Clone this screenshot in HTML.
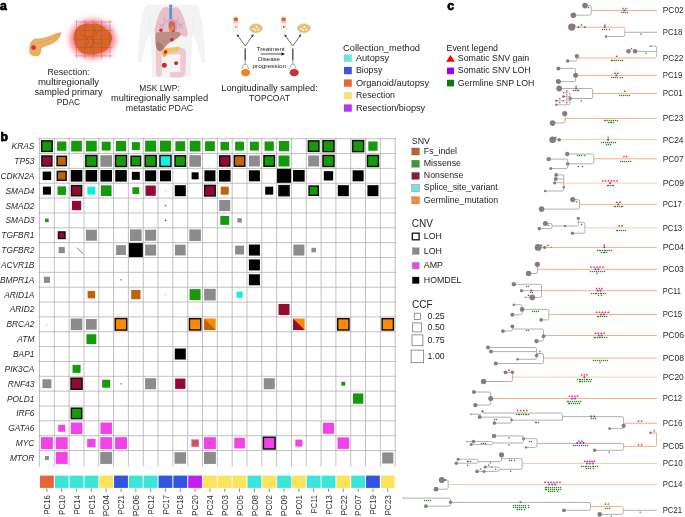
<!DOCTYPE html>
<html><head><meta charset="utf-8"><title>Figure</title><style>
*{margin:0;padding:0}
html,body{width:685px;height:517px;background:#fff;overflow:hidden}
svg{display:block}
text{font-family:"Liberation Sans",Arial,sans-serif;fill:#222}
.gl{stroke:#adadad;stroke-width:0.75}
.gene{font-size:8.4px;font-style:italic;text-anchor:end;fill:#2a2a2a}
.samp{font-size:9px;fill:#333}
.lg{font-size:8.8px;fill:#222}
.lg2{font-size:10px;fill:#222}
.cap{font-size:9px;fill:#222}
.pl{font-size:12.2px;font-weight:bold;fill:#000;stroke:#000;stroke-width:0.75;stroke-linejoin:round}
.tl{font-size:8.6px;fill:#2a2a2a}
.sm{font-size:6px;fill:#222}
</style></head>
<body><svg width="685" height="517" viewBox="0 0 685 517">
<defs>
<filter id="glow" x="-30%" y="-30%" width="160%" height="160%"><feGaussianBlur stdDeviation="3.2"/></filter>
<filter id="soft" x="-20%" y="-20%" width="140%" height="140%"><feGaussianBlur stdDeviation="0.5"/></filter>
</defs>
<path d="M61 32.3C59.5 32.3 58.2 32.6 56.9 32.9C54.5 33.8 52.3 35 50 35.8C47.6 36.8 45.3 37.4 43 37.9C40.7 38.3 38.4 38.3 36.1 38.6C34.2 39 32.8 39.6 31.9 40.7C30.7 41.9 30.1 43.3 29.9 44.8C29.4 46.6 29.1 48.5 29.2 50.4C29.4 51.9 29.8 53.3 30.5 54.5C31.6 55.6 33 56.2 34.7 56.3C36.3 56.4 37.8 56.2 38.9 55.5C40.3 54.6 40.8 53.2 41 51.8C41.2 50.6 41.1 49.4 41.6 48.3C42.7 47.2 44.2 46.7 45.8 46.2C48.1 45.4 50.4 44.6 52.7 43.4C54.8 42.3 56.8 40.9 58.3 39.3C59.5 38 60.4 36.6 60.8 35.1C61.3 34.1 61.6 33 61 32.3Z" fill="#e8ad62"/>
<path d="M34 41.5C40 41.8 47 39.5 53 36.6M33 47C38 45 44 43.5 52 40.5" stroke="#f0c07a" stroke-width="0.9" fill="none" opacity="0.8"/>
<path d="M37.5 42.8C44 41.8 50 39.4 57 35.4" stroke="#c98b48" stroke-width="0.4" fill="none"/>
<circle cx="33.6" cy="47.6" r="2.4" fill="#d2343c"/>
<ellipse cx="92.6" cy="39" rx="22.5" ry="19" fill="#ff4a5e" opacity="0.8" filter="url(#glow)"/>
<path d="M84.5 24C87 23.2 90 23.4 92.5 24.2C94.5 23.2 97.5 23.2 99.5 24.6C102 25.4 104.6 27.4 106 29.6C108 30.4 110.6 32.6 111.8 35.2C112.6 37.8 111.8 40.6 110.6 43C109.6 46 108 48.8 105.6 50.6C103 52.4 100 53.2 97 53.8C95.4 54.6 93.4 54.8 92 54.5C89.5 54.8 87 54.6 85 53.8C83.6 53.6 82.2 53.2 81.4 52.6C79.4 51.4 78.2 49.6 77.4 47.6C75.6 45.8 74.4 43.4 74.2 41C73.4 39.4 73.2 37.8 73.7 36.3C73.8 33 75.4 29.6 77.6 27.4C79.6 25.4 82 24.4 84.5 24Z" fill="#dd6424"/>
<path d="M80 34C83 36 85 35 87 37L88.5 42L86 47M87 37L92 36.5L96.5 33L99.5 30M92 36.5L93 42L98.5 44L103 42.5M93 42L90 48.5M96.5 33L94 28" stroke="#b9441a" stroke-width="0.55" fill="none"/>
<line x1="76.6" y1="19.8" x2="76.6" y2="58.7" stroke="#6e5c5c" stroke-width="0.5" opacity="0.7"/>
<line x1="84.9" y1="19.8" x2="84.9" y2="58.7" stroke="#6e5c5c" stroke-width="0.5" opacity="0.7"/>
<line x1="93.2" y1="19.8" x2="93.2" y2="58.7" stroke="#6e5c5c" stroke-width="0.5" opacity="0.7"/>
<line x1="101.6" y1="19.8" x2="101.6" y2="58.7" stroke="#6e5c5c" stroke-width="0.5" opacity="0.7"/>
<line x1="109.9" y1="19.8" x2="109.9" y2="58.7" stroke="#6e5c5c" stroke-width="0.5" opacity="0.7"/>
<line x1="74.9" y1="21.9" x2="112.7" y2="21.9" stroke="#6e5c5c" stroke-width="0.5" opacity="0.7"/>
<line x1="74.9" y1="30.5" x2="112.7" y2="30.5" stroke="#6e5c5c" stroke-width="0.5" opacity="0.7"/>
<line x1="74.9" y1="39.3" x2="112.7" y2="39.3" stroke="#6e5c5c" stroke-width="0.5" opacity="0.7"/>
<line x1="74.9" y1="47.6" x2="112.7" y2="47.6" stroke="#6e5c5c" stroke-width="0.5" opacity="0.7"/>
<line x1="74.9" y1="55.9" x2="112.7" y2="55.9" stroke="#6e5c5c" stroke-width="0.5" opacity="0.7"/>
<path d="M151 4.7C147.5 4.8 145.5 5.6 144.2 8C142.2 13 140.6 24 139.6 34C138.8 42 138 52 137.6 62.5L141.4 62.5C143 55 145.6 44 148.4 37L150.6 34.5L152.4 77.8L190.6 77.8L192.4 34.5L194.6 37C197.4 44 200 55 201.6 62.5L205.4 62.5C205 52 204.2 42 203.4 34C202.4 24 200.8 13 198.8 8C197.5 5.6 195.5 4.8 192 4.7Z" fill="#f3f3f3"/>
<path d="M150.6 34.5L149.6 16M192.4 34.5L193.4 16" stroke="#e9e9e9" stroke-width="0.6" fill="none"/>
<path d="M165.6 6.8C163 7.2 161.2 9.5 159.6 13C157.4 18 155.4 25 154.6 30C154.2 33 155 34.8 157 34.6C160.5 34.2 165 33.4 168.4 32L169.3 24L169.2 9.5C169 7.8 167.2 6.6 165.6 6.8Z" fill="#ebbfc7"/>
<path d="M175.8 7C178.4 7.4 180.4 9.8 182 13.4C184.2 18.6 186.6 26 187.6 32C188 35.4 187.2 37 185.2 36.6C181.4 35.8 177 34.6 174 33L172.3 24L172.3 9.5C172.6 7.8 174.2 6.8 175.8 7Z" fill="#ebbfc7"/>
<path d="M169.4 19.5L165.5 22L161.5 25.5L159.5 28M165.5 22L163.8 17M161.5 25.5L159 24M163.5 23.5L162.5 29.5M172.2 19.5L176.5 22L181 25L183 28.5M176.5 22L178.5 16.5M181 25L183.6 23.4M179 23.5L179.5 29.5" stroke="#96a3d6" stroke-width="0.7" fill="none"/>
<rect x="169.2" y="4.7" width="3" height="14.8" fill="#6a8cc6"/>
<path d="M169.2 7.5H172.2M169.2 10H172.2M169.2 12.5H172.2M169.2 15H172.2M169.2 17.5H172.2" stroke="#86a2d2" stroke-width="0.4"/>
<path d="M170 19.2C172.5 18.8 175 19.6 176.2 21.6C177.4 24.5 177.4 28.5 176.4 31.2C175.4 32.6 172 33 170 32.6C168.4 32 168 29 168 25C168 22 168.6 19.8 170 19.2Z" fill="#dfa09e"/>
<path d="M170.2 21.5C172 20.8 174 21.4 174.8 23.4C175.6 26 175.4 29.4 174.2 31C173 32 171 32 169.8 31C168.8 29.6 168.8 25 169.2 23C169.4 22.2 169.7 21.7 170.2 21.5Z" fill="#c8675a"/>
<path d="M169.2 26.5C170 27.5 170.6 29.2 171.4 30.4C172 31.3 171 31.8 170 31.4C169.2 30.6 169 28 169.2 26.5Z" fill="#e2a23e"/>
<path d="M171.8 25.5C172.8 25.4 173.8 26.6 173.8 28.2C173.6 29.6 172.6 30.4 171.8 30C171.2 29 171.2 26.5 171.8 25.5Z" fill="#d88a8a"/>
<circle cx="173.6" cy="31.2" r="0.9" fill="#b22a2a"/>
<path d="M158.6 46.5C160.5 47.6 163 48.4 166 48.2L178.5 47.8C182.5 47.6 185.6 48.6 185.8 52C186 58 185.8 66 185.4 72C185.2 76 183 77.4 179.5 77.4L172 77.4C170.6 77.4 170 76.6 170 75.2L170 73.4C170 72.6 170.6 72.2 171.4 72.2L180.2 72.2L180.5 54.2L166 54.4L161.6 54.6L161.8 73C161.8 75.4 160.6 76.8 158.8 76.8C157 76.8 156.1 75.6 156 73.5L155.8 50C155.8 47.5 156.8 45.8 158.6 46.5Z" fill="#ebc9ce"/>
<path d="M156.2 32.6C162 31.8 170 31.6 176 31.8C179.2 32 181 32.6 180.8 34.2C180 36.6 177 38.8 173 40.8C169 42.8 166 45.4 164 48.4C162.4 50.8 160 52 158 50.6C156 49 155.4 44 155.3 39C155.2 36 155.4 33.2 156.2 32.6Z" fill="#b88f80"/>
<path d="M156 42C156 47 157.5 50.5 160 51C161.8 51 163 49 163.6 47C162.5 44 160 42 156 42Z" fill="#a87a6a"/>
<line x1="169.4" y1="32.2" x2="169.4" y2="43" stroke="#c9a298" stroke-width="0.5"/>
<path d="M163 49.4C167 48 173 47.2 178 46.8C180.2 46.8 180.4 48.6 179 49.8C176.4 51.6 172 52.4 168 53C167 55 166 56.8 164.4 57C162.8 57 162 55.4 162 53.4C162 51.6 162.2 50 163 49.4Z" fill="#f2c55a"/>
<path d="M162.4 52.5C163 55 164 56.6 165 56.6C166 56 166.6 54.4 166.8 53" fill="#eda43a"/>
<circle cx="161" cy="30.2" r="1.7" fill="#d3263a"/>
<circle cx="171.9" cy="39.6" r="1.9" fill="#d3263a"/>
<circle cx="165.6" cy="51.9" r="1.8" fill="#d3263a"/>
<circle cx="164.3" cy="65.2" r="2.5" fill="#d3263a"/>
<circle cx="176.1" cy="63.2" r="1.9" fill="#d3263a"/>
<rect x="233.8" y="18" width="4" height="14.2" rx="1.5" fill="#fff" stroke="#cfcfcf" stroke-width="0.5"/>
<rect x="233.6" y="17.6" width="4.4" height="3.4" rx="1" fill="#ee5a2a"/>
<rect x="233.8" y="21.4" width="4" height="1.2" fill="#f4a070"/>
<circle cx="235.9" cy="27" r="0.9" fill="#f5821f"/>
<ellipse cx="256" cy="28.3" rx="6.6" ry="4.6" fill="#e6c270" stroke="#cdd6de" stroke-width="0.7"/>
<circle cx="253.5" cy="28.8" r="0.9" fill="#fff"/>
<circle cx="256.5" cy="27" r="0.9" fill="#fff"/>
<circle cx="258.5" cy="29.5" r="0.9" fill="#fff"/>
<circle cx="255.5" cy="30.2" r="0.9" fill="#fff"/>
<path d="M245.2 46L237.6 35.4M245.2 46L252.79999999999998 35.4" stroke="#333" stroke-width="0.7" fill="none"/>
<path d="M236.6 34.2L239.39999999999998 35.6L237.6 37.2Z M253.79999999999998 34.2L251.0 35.6L252.79999999999998 37.2Z" fill="#333"/>
<line x1="245.2" y1="48.5" x2="245.2" y2="60" stroke="#5a5a5a" stroke-width="1.5"/>
<line x1="245.2" y1="60" x2="245.2" y2="64.4" stroke="#c4c4c4" stroke-width="1.7"/>
<path d="M241.79999999999998 69L243.6 64.6L246.79999999999998 64.6L248.6 69" fill="none" stroke="#a8a8a8" stroke-width="0.9"/>
<ellipse cx="245.6" cy="72.6" rx="4.6" ry="3.7" fill="#f5821f"/>
<rect x="281.6" y="18" width="4" height="14.2" rx="1.5" fill="#fff" stroke="#cfcfcf" stroke-width="0.5"/>
<rect x="281.4" y="17.6" width="4.4" height="3.4" rx="1" fill="#ee5a2a"/>
<rect x="281.6" y="21.4" width="4" height="1.2" fill="#f4a070"/>
<circle cx="283.7" cy="27" r="0.9" fill="#d02030"/>
<ellipse cx="303.8" cy="28.3" rx="6.6" ry="4.6" fill="#e6c270" stroke="#cdd6de" stroke-width="0.7"/>
<circle cx="301.3" cy="28.8" r="0.9" fill="#fff"/>
<circle cx="304.3" cy="27" r="0.9" fill="#fff"/>
<circle cx="306.3" cy="29.5" r="0.9" fill="#fff"/>
<circle cx="303.3" cy="30.2" r="0.9" fill="#fff"/>
<path d="M292.8 46L285.2 35.4M292.8 46L300.40000000000003 35.4" stroke="#333" stroke-width="0.7" fill="none"/>
<path d="M284.2 34.2L287.0 35.6L285.2 37.2Z M301.40000000000003 34.2L298.6 35.6L300.40000000000003 37.2Z" fill="#333"/>
<line x1="292.8" y1="48.5" x2="292.8" y2="60" stroke="#5a5a5a" stroke-width="1.5"/>
<line x1="292.8" y1="60" x2="292.8" y2="64.4" stroke="#c4c4c4" stroke-width="1.7"/>
<path d="M289.40000000000003 69L291.2 64.6L294.40000000000003 64.6L296.2 69" fill="none" stroke="#a8a8a8" stroke-width="0.9"/>
<ellipse cx="294.2" cy="72.6" rx="4.6" ry="3.7" fill="#c2333a"/>
<line x1="260.8" y1="54" x2="282.5" y2="54" stroke="#222" stroke-width="0.8"/>
<path d="M285 54L281.5 52.2L281.5 55.8Z" fill="#222"/>
<text x="270.7" y="50.5" class="sm" text-anchor="middle" textLength="28.2" lengthAdjust="spacingAndGlyphs">Treatment</text>
<text x="269" y="60.9" class="sm" text-anchor="middle" textLength="22" lengthAdjust="spacingAndGlyphs">Disease</text>
<text x="269.3" y="67.6" class="sm" text-anchor="middle" textLength="33.6" lengthAdjust="spacingAndGlyphs">progression</text>
<text x="0.1" y="9.8" class="pl">a</text>
<text x="0.5" y="140.7" class="pl">b</text>
<text x="447.3" y="9.9" class="pl">c</text>
<text x="68.5" y="74.6" class="cap" text-anchor="middle" textLength="42.2" lengthAdjust="spacingAndGlyphs">Resection:</text>
<text x="68.5" y="84.7" class="cap" text-anchor="middle" textLength="61.2" lengthAdjust="spacingAndGlyphs">multiregionally</text>
<text x="68.5" y="94.8" class="cap" text-anchor="middle" textLength="68.1" lengthAdjust="spacingAndGlyphs">sampled primary</text>
<text x="68.5" y="104.9" class="cap" text-anchor="middle" textLength="23.3" lengthAdjust="spacingAndGlyphs">PDAC</text>
<text x="159.5" y="91.3" class="cap" text-anchor="middle" textLength="40.5" lengthAdjust="spacingAndGlyphs">MSK LWP:</text>
<text x="159.5" y="101.3" class="cap" text-anchor="middle" textLength="97.2" lengthAdjust="spacingAndGlyphs">multiregionally sampled</text>
<text x="159.5" y="111.3" class="cap" text-anchor="middle" textLength="67.4" lengthAdjust="spacingAndGlyphs">metastatic PDAC</text>
<text x="269.5" y="91.1" class="cap" text-anchor="middle" textLength="96.5" lengthAdjust="spacingAndGlyphs">Longitudinally sampled:</text>
<text x="269.5" y="101" class="cap" text-anchor="middle" textLength="40.8" lengthAdjust="spacingAndGlyphs">TOPCOAT</text>
<line x1="39.5" y1="137.6" x2="39.5" y2="466.6" class="gl"/>
<line x1="54.32" y1="137.6" x2="54.32" y2="466.6" class="gl"/>
<line x1="69.14" y1="137.6" x2="69.14" y2="466.6" class="gl"/>
<line x1="83.96" y1="137.6" x2="83.96" y2="466.6" class="gl"/>
<line x1="98.78" y1="137.6" x2="98.78" y2="466.6" class="gl"/>
<line x1="113.6" y1="137.6" x2="113.6" y2="466.6" class="gl"/>
<line x1="128.42" y1="137.6" x2="128.42" y2="466.6" class="gl"/>
<line x1="143.24" y1="137.6" x2="143.24" y2="466.6" class="gl"/>
<line x1="158.06" y1="137.6" x2="158.06" y2="466.6" class="gl"/>
<line x1="172.88" y1="137.6" x2="172.88" y2="466.6" class="gl"/>
<line x1="187.7" y1="137.6" x2="187.7" y2="466.6" class="gl"/>
<line x1="202.52" y1="137.6" x2="202.52" y2="466.6" class="gl"/>
<line x1="217.34" y1="137.6" x2="217.34" y2="466.6" class="gl"/>
<line x1="232.16" y1="137.6" x2="232.16" y2="466.6" class="gl"/>
<line x1="246.98" y1="137.6" x2="246.98" y2="466.6" class="gl"/>
<line x1="261.8" y1="137.6" x2="261.8" y2="466.6" class="gl"/>
<line x1="276.62" y1="137.6" x2="276.62" y2="466.6" class="gl"/>
<line x1="291.44" y1="137.6" x2="291.44" y2="466.6" class="gl"/>
<line x1="306.26" y1="137.6" x2="306.26" y2="466.6" class="gl"/>
<line x1="321.08" y1="137.6" x2="321.08" y2="466.6" class="gl"/>
<line x1="335.9" y1="137.6" x2="335.9" y2="466.6" class="gl"/>
<line x1="350.72" y1="137.6" x2="350.72" y2="466.6" class="gl"/>
<line x1="365.54" y1="137.6" x2="365.54" y2="466.6" class="gl"/>
<line x1="380.36" y1="137.6" x2="380.36" y2="466.6" class="gl"/>
<line x1="395.18" y1="137.6" x2="395.18" y2="466.6" class="gl"/>
<line x1="38.4" y1="138.7" x2="396.18" y2="138.7" class="gl"/>
<line x1="38.4" y1="153.55" x2="396.18" y2="153.55" class="gl"/>
<line x1="38.4" y1="168.4" x2="396.18" y2="168.4" class="gl"/>
<line x1="38.4" y1="183.25" x2="396.18" y2="183.25" class="gl"/>
<line x1="38.4" y1="198.1" x2="396.18" y2="198.1" class="gl"/>
<line x1="38.4" y1="212.95" x2="396.18" y2="212.95" class="gl"/>
<line x1="38.4" y1="227.8" x2="396.18" y2="227.8" class="gl"/>
<line x1="38.4" y1="242.65" x2="396.18" y2="242.65" class="gl"/>
<line x1="38.4" y1="257.5" x2="396.18" y2="257.5" class="gl"/>
<line x1="38.4" y1="272.35" x2="396.18" y2="272.35" class="gl"/>
<line x1="38.4" y1="287.2" x2="396.18" y2="287.2" class="gl"/>
<line x1="38.4" y1="302.05" x2="396.18" y2="302.05" class="gl"/>
<line x1="38.4" y1="316.9" x2="396.18" y2="316.9" class="gl"/>
<line x1="38.4" y1="331.75" x2="396.18" y2="331.75" class="gl"/>
<line x1="38.4" y1="346.6" x2="396.18" y2="346.6" class="gl"/>
<line x1="38.4" y1="361.45" x2="396.18" y2="361.45" class="gl"/>
<line x1="38.4" y1="376.3" x2="396.18" y2="376.3" class="gl"/>
<line x1="38.4" y1="391.15" x2="396.18" y2="391.15" class="gl"/>
<line x1="38.4" y1="406" x2="396.18" y2="406" class="gl"/>
<line x1="38.4" y1="420.85" x2="396.18" y2="420.85" class="gl"/>
<line x1="38.4" y1="435.7" x2="396.18" y2="435.7" class="gl"/>
<line x1="38.4" y1="450.55" x2="396.18" y2="450.55" class="gl"/>
<rect x="41.66" y="140.88" width="10.5" height="10.5" fill="#169a0c" stroke="#111" stroke-width="1.5"/>
<rect x="57.08" y="141.47" width="9.3" height="9.3" fill="#169a0c"/>
<rect x="71.2" y="140.78" width="10.7" height="10.7" fill="#169a0c"/>
<rect x="86.02" y="140.78" width="10.7" height="10.7" fill="#169a0c"/>
<rect x="101.74" y="141.68" width="8.9" height="8.9" fill="#169a0c"/>
<rect x="115.86" y="140.97" width="10.3" height="10.3" fill="#169a0c"/>
<rect x="131.83" y="142.12" width="8" height="8" fill="#169a0c"/>
<rect x="145.15" y="140.62" width="11" height="11" fill="#169a0c"/>
<rect x="159.97" y="140.62" width="11" height="11" fill="#169a0c"/>
<rect x="175.39" y="141.22" width="9.8" height="9.8" fill="#169a0c"/>
<rect x="189.76" y="140.78" width="10.7" height="10.7" fill="#169a0c"/>
<rect x="205.03" y="141.22" width="9.8" height="9.8" fill="#169a0c"/>
<rect x="220.5" y="141.88" width="8.5" height="8.5" fill="#169a0c"/>
<rect x="235.12" y="141.68" width="8.9" height="8.9" fill="#169a0c"/>
<rect x="249.94" y="141.68" width="8.9" height="8.9" fill="#169a0c"/>
<rect x="264.56" y="141.47" width="9.3" height="9.3" fill="#169a0c"/>
<rect x="278.88" y="140.97" width="10.3" height="10.3" fill="#169a0c"/>
<rect x="308.42" y="140.88" width="10.5" height="10.5" fill="#169a0c" stroke="#111" stroke-width="1.5"/>
<rect x="322.99" y="140.62" width="11" height="11" fill="#169a0c" stroke="#111" stroke-width="1.5"/>
<rect x="352.63" y="140.62" width="11" height="11" fill="#169a0c" stroke="#111" stroke-width="1.5"/>
<rect x="368.3" y="141.47" width="9.3" height="9.3" fill="#169a0c"/>
<rect x="41.91" y="155.97" width="10" height="10" fill="#960a32" stroke="#111" stroke-width="1.5"/>
<rect x="57.08" y="156.32" width="9.3" height="9.3" fill="#be640a" stroke="#111" stroke-width="1.5"/>
<rect x="85.87" y="155.47" width="11" height="11" fill="#169a0c" stroke="#111" stroke-width="1.5"/>
<rect x="100.39" y="155.17" width="11.6" height="11.6" fill="#8c8c8c"/>
<rect x="115.51" y="155.47" width="11" height="11" fill="#169a0c" stroke="#111" stroke-width="1.5"/>
<rect x="131.08" y="156.22" width="9.5" height="9.5" fill="#169a0c" stroke="#111" stroke-width="1.5"/>
<rect x="145.15" y="155.47" width="11" height="11" fill="#169a0c" stroke="#111" stroke-width="1.5"/>
<rect x="159.97" y="155.47" width="11" height="11" fill="#10efe4" stroke="#111" stroke-width="1.5"/>
<rect x="175.04" y="155.72" width="10.5" height="10.5" fill="#169a0c" stroke="#111" stroke-width="1.5"/>
<rect x="189.31" y="155.17" width="11.6" height="11.6" fill="#8c8c8c"/>
<rect x="219.7" y="155.92" width="10.1" height="10.1" fill="#960a32" stroke="#111" stroke-width="1.5"/>
<rect x="234.32" y="155.72" width="10.5" height="10.5" fill="#be640a" stroke="#111" stroke-width="1.5"/>
<rect x="248.89" y="155.47" width="11" height="11" fill="#8c8c8c"/>
<rect x="263.96" y="155.72" width="10.5" height="10.5" fill="#169a0c" stroke="#111" stroke-width="1.5"/>
<rect x="278.53" y="155.47" width="11" height="11" fill="#169a0c"/>
<rect x="308.17" y="155.47" width="11" height="11" fill="#8c8c8c"/>
<rect x="322.99" y="155.47" width="11" height="11" fill="#169a0c" stroke="#111" stroke-width="1.5"/>
<rect x="367.45" y="155.47" width="11" height="11" fill="#169a0c" stroke="#111" stroke-width="1.5"/>
<rect x="42.66" y="171.57" width="8.5" height="8.5" fill="#000000"/>
<rect x="57.33" y="171.42" width="8.8" height="8.8" fill="#be640a" stroke="#111" stroke-width="1.5"/>
<rect x="70.75" y="170.02" width="11.6" height="11.6" fill="#000000"/>
<rect x="85.57" y="170.02" width="11.6" height="11.6" fill="#000000"/>
<rect x="100.39" y="170.02" width="11.6" height="11.6" fill="#000000"/>
<rect x="115.21" y="170.02" width="11.6" height="11.6" fill="#000000"/>
<rect x="131.83" y="171.82" width="8" height="8" fill="#000000"/>
<rect x="145.15" y="170.32" width="11" height="11" fill="#000000"/>
<rect x="159.97" y="170.32" width="11" height="11" fill="#000000"/>
<rect x="191.61" y="172.32" width="7" height="7" fill="#000000"/>
<rect x="204.43" y="170.32" width="11" height="11" fill="#000000"/>
<rect x="218.95" y="170.02" width="11.6" height="11.6" fill="#000000"/>
<rect x="248.89" y="170.32" width="11" height="11" fill="#000000"/>
<rect x="277.03" y="168.82" width="14" height="14" fill="#000000"/>
<rect x="293.05" y="170.02" width="11.6" height="11.6" fill="#000000"/>
<rect x="323.84" y="171.17" width="9.3" height="9.3" fill="#000000"/>
<rect x="352.63" y="170.32" width="11" height="11" fill="#000000"/>
<rect x="42.91" y="186.67" width="8" height="8" fill="#000000"/>
<rect x="57.48" y="186.42" width="8.5" height="8.5" fill="#169a0c"/>
<rect x="71.5" y="185.62" width="10.1" height="10.1" fill="#960a32" stroke="#111" stroke-width="1.5"/>
<rect x="87.37" y="186.67" width="8" height="8" fill="#10efe4"/>
<rect x="100.84" y="185.32" width="10.7" height="10.7" fill="#169a0c"/>
<rect x="132.43" y="187.27" width="6.8" height="6.8" fill="#169a0c"/>
<rect x="145.5" y="185.52" width="10.3" height="10.3" fill="#960a32"/>
<rect x="165.07" y="190.27" width="0.8" height="0.8" fill="#169a0c"/>
<rect x="174.79" y="185.17" width="11" height="11" fill="#000000"/>
<rect x="204.68" y="185.42" width="10.5" height="10.5" fill="#960a32" stroke="#111" stroke-width="1.5"/>
<rect x="220.75" y="186.67" width="8" height="8" fill="#be640a"/>
<rect x="265.21" y="186.67" width="8" height="8" fill="#000000"/>
<rect x="278.98" y="185.62" width="10.1" height="10.1" fill="#000000" stroke="#111" stroke-width="1.5"/>
<rect x="309.07" y="186.07" width="9.2" height="9.2" fill="#169a0c" stroke="#111" stroke-width="1.5"/>
<rect x="337.81" y="185.17" width="11" height="11" fill="#000000"/>
<rect x="367.45" y="185.17" width="11" height="11" fill="#000000"/>
<rect x="71.9" y="200.87" width="9.3" height="9.3" fill="#960a32"/>
<rect x="164.77" y="204.82" width="1.4" height="1.4" fill="#169a0c"/>
<rect x="219.25" y="200.02" width="11" height="11" fill="#8c8c8c"/>
<rect x="45.11" y="218.57" width="3.6" height="3.6" fill="#169a0c"/>
<rect x="164.77" y="219.68" width="1.4" height="1.4" fill="#960a32"/>
<rect x="220.3" y="215.93" width="8.9" height="8.9" fill="#169a0c"/>
<rect x="237.32" y="218.12" width="4.5" height="4.5" fill="#8c8c8c"/>
<rect x="58.48" y="231.97" width="6.5" height="6.5" fill="#960a32" stroke="#111" stroke-width="1.5"/>
<rect x="85.87" y="229.72" width="11" height="11" fill="#8c8c8c"/>
<rect x="130.03" y="229.42" width="11.6" height="11.6" fill="#8c8c8c"/>
<rect x="145.15" y="229.72" width="11" height="11" fill="#8c8c8c"/>
<rect x="189.31" y="229.42" width="11.6" height="11.6" fill="#8c8c8c"/>
<rect x="58.63" y="246.97" width="6.2" height="6.2" fill="#8c8c8c"/>
<rect x="116.11" y="245.17" width="9.8" height="9.8" fill="#8c8c8c"/>
<rect x="128.83" y="243.07" width="14" height="14" fill="#000000"/>
<rect x="145.15" y="244.57" width="11" height="11" fill="#8c8c8c"/>
<rect x="174.94" y="244.72" width="10.7" height="10.7" fill="#8c8c8c"/>
<rect x="235.12" y="245.62" width="8.9" height="8.9" fill="#8c8c8c"/>
<rect x="248.89" y="244.57" width="11" height="11" fill="#000000"/>
<rect x="293.35" y="244.57" width="11" height="11" fill="#8c8c8c"/>
<rect x="311.42" y="247.82" width="4.5" height="4.5" fill="#8c8c8c"/>
<rect x="248.89" y="259.42" width="11" height="11" fill="#000000"/>
<rect x="43.81" y="276.67" width="6.2" height="6.2" fill="#8c8c8c"/>
<rect x="120.31" y="279.07" width="1.4" height="1.4" fill="#8c8c8c"/>
<rect x="248.89" y="274.27" width="11" height="11" fill="#000000"/>
<rect x="87.62" y="290.88" width="7.5" height="7.5" fill="#be640a"/>
<rect x="131.18" y="289.98" width="9.3" height="9.3" fill="#be640a"/>
<rect x="165.07" y="294.23" width="0.8" height="0.8" fill="#169a0c"/>
<rect x="189.61" y="289.12" width="11" height="11" fill="#169a0c"/>
<rect x="204.13" y="288.82" width="11.6" height="11.6" fill="#8c8c8c"/>
<rect x="236.47" y="291.52" width="6.2" height="6.2" fill="#10efe4"/>
<rect x="278.53" y="303.98" width="11" height="11" fill="#960a32"/>
<rect x="46.51" y="323.93" width="0.8" height="0.8" fill="#169a0c"/>
<rect x="70.75" y="318.52" width="11.6" height="11.6" fill="#8c8c8c"/>
<rect x="86.02" y="318.97" width="10.7" height="10.7" fill="#8c8c8c"/>
<rect x="115.26" y="318.57" width="11.5" height="11.5" fill="#ff8a00" stroke="#111" stroke-width="1.5"/>
<rect x="189.46" y="318.68" width="11.3" height="11.3" fill="#ff8a00" stroke="#111" stroke-width="1.5"/>
<rect x="204.13" y="318.52" width="11.6" height="11.6" fill="#ff8a00"/>
<path d="M204.13 318.52L215.73 330.12L204.13 330.12Z" fill="#be640a"/>
<rect x="293.05" y="318.52" width="11.6" height="11.6" fill="#ff8a00"/>
<path d="M293.05 318.52L304.65 330.12L293.05 330.12Z" fill="#960a32"/>
<rect x="337.66" y="318.68" width="11.3" height="11.3" fill="#ff8a00" stroke="#111" stroke-width="1.5"/>
<rect x="382.12" y="318.68" width="11.3" height="11.3" fill="#ff8a00" stroke="#111" stroke-width="1.5"/>
<rect x="86.47" y="334.27" width="9.8" height="9.8" fill="#169a0c"/>
<rect x="174.79" y="348.52" width="11" height="11" fill="#000000"/>
<rect x="72.55" y="364.88" width="8" height="8" fill="#169a0c"/>
<rect x="42.46" y="379.28" width="8.9" height="8.9" fill="#8c8c8c"/>
<rect x="71.05" y="378.23" width="11" height="11" fill="#960a32" stroke="#111" stroke-width="1.5"/>
<rect x="102.19" y="379.73" width="8" height="8" fill="#169a0c"/>
<rect x="120.31" y="383.03" width="1.4" height="1.4" fill="#8c8c8c"/>
<rect x="145.15" y="378.23" width="11" height="11" fill="#8c8c8c"/>
<rect x="175.14" y="378.58" width="10.3" height="10.3" fill="#960a32"/>
<rect x="263.71" y="378.23" width="11" height="11" fill="#8c8c8c"/>
<rect x="341.36" y="381.78" width="3.9" height="3.9" fill="#169a0c"/>
<rect x="352.98" y="393.43" width="10.3" height="10.3" fill="#169a0c"/>
<rect x="71.35" y="408.22" width="10.4" height="10.4" fill="#169a0c" stroke="#111" stroke-width="1.5"/>
<rect x="58.23" y="424.77" width="7" height="7" fill="#f242e8"/>
<rect x="70.8" y="422.52" width="11.5" height="11.5" fill="#f242e8"/>
<rect x="100.44" y="422.52" width="11.5" height="11.5" fill="#f242e8"/>
<rect x="322.94" y="422.72" width="11.1" height="11.1" fill="#f242e8"/>
<rect x="40.96" y="437.18" width="11.9" height="11.9" fill="#f242e8"/>
<rect x="55.78" y="437.18" width="11.9" height="11.9" fill="#f242e8"/>
<rect x="87.17" y="438.93" width="8.4" height="8.4" fill="#f242e8"/>
<rect x="100.24" y="437.18" width="11.9" height="11.9" fill="#f242e8"/>
<rect x="115.06" y="437.18" width="11.9" height="11.9" fill="#f242e8"/>
<rect x="191.96" y="439.98" width="6.3" height="6.3" fill="#be640a" stroke="#f242e8" stroke-width="1.2"/>
<rect x="203.98" y="437.18" width="11.9" height="11.9" fill="#f242e8"/>
<rect x="209.13" y="442.32" width="1.6" height="1.6" fill="#777"/>
<rect x="234.27" y="437.82" width="10.6" height="10.6" fill="#f242e8"/>
<rect x="263.36" y="437.27" width="11.7" height="11.7" fill="#f242e8" stroke="#111" stroke-width="1.5"/>
<rect x="295.35" y="439.62" width="7" height="7" fill="#f242e8"/>
<rect x="337.56" y="437.38" width="11.5" height="11.5" fill="#f242e8"/>
<rect x="44.91" y="455.97" width="4" height="4" fill="#8c8c8c"/>
<rect x="55.78" y="452.02" width="11.9" height="11.9" fill="#f242e8"/>
<rect x="100.24" y="452.02" width="11.9" height="11.9" fill="#8c8c8c"/>
<rect x="174.54" y="452.22" width="11.5" height="11.5" fill="#8c8c8c"/>
<rect x="203.98" y="452.02" width="11.9" height="11.9" fill="#8c8c8c"/>
<rect x="382.22" y="452.42" width="11.1" height="11.1" fill="#8c8c8c"/>
<line x1="76.8" y1="247.7" x2="83.4" y2="253.9" stroke="#222" stroke-width="0.6"/>
<text x="34.4" y="149.12" class="gene">KRAS</text>
<text x="34.4" y="163.97" class="gene">TP53</text>
<text x="34.4" y="178.82" class="gene">CDKN2A</text>
<text x="34.4" y="193.67" class="gene">SMAD4</text>
<text x="34.4" y="208.52" class="gene">SMAD2</text>
<text x="34.4" y="223.38" class="gene">SMAD3</text>
<text x="34.4" y="238.22" class="gene">TGFBR1</text>
<text x="34.4" y="253.07" class="gene">TGFBR2</text>
<text x="34.4" y="267.92" class="gene">ACVR1B</text>
<text x="34.4" y="282.77" class="gene">BMPR1A</text>
<text x="34.4" y="297.62" class="gene">ARID1A</text>
<text x="34.4" y="312.48" class="gene">ARID2</text>
<text x="34.4" y="327.32" class="gene">BRCA2</text>
<text x="34.4" y="342.17" class="gene">ATM</text>
<text x="34.4" y="357.02" class="gene">BAP1</text>
<text x="34.4" y="371.88" class="gene">PIK3CA</text>
<text x="34.4" y="386.73" class="gene">RNF43</text>
<text x="34.4" y="401.57" class="gene">POLD1</text>
<text x="34.4" y="416.42" class="gene">IRF6</text>
<text x="34.4" y="431.27" class="gene">GATA6</text>
<text x="34.4" y="446.12" class="gene">MYC</text>
<text x="34.4" y="460.97" class="gene">MTOR</text>
<rect x="40.01" y="475.6" width="13.8" height="12.3" fill="#e9643a"/>
<line x1="46.91" y1="488.6" x2="46.91" y2="491.8" stroke="#666" stroke-width="0.8"/>
<text transform="translate(50.11,495.1) rotate(-90)" class="samp" text-anchor="end" textLength="19.5" lengthAdjust="spacingAndGlyphs">PC16</text>
<rect x="54.83" y="475.6" width="13.8" height="12.3" fill="#3be6d9"/>
<line x1="61.73" y1="488.6" x2="61.73" y2="491.8" stroke="#666" stroke-width="0.8"/>
<text transform="translate(64.93,495.1) rotate(-90)" class="samp" text-anchor="end" textLength="19.8" lengthAdjust="spacingAndGlyphs">PC10</text>
<rect x="69.65" y="475.6" width="13.8" height="12.3" fill="#3be6d9"/>
<line x1="76.55" y1="488.6" x2="76.55" y2="491.8" stroke="#666" stroke-width="0.8"/>
<text transform="translate(79.75,495.1) rotate(-90)" class="samp" text-anchor="end" textLength="19.5" lengthAdjust="spacingAndGlyphs">PC14</text>
<rect x="84.47" y="475.6" width="13.8" height="12.3" fill="#3be6d9"/>
<line x1="91.37" y1="488.6" x2="91.37" y2="491.8" stroke="#666" stroke-width="0.8"/>
<text transform="translate(94.57,495.1) rotate(-90)" class="samp" text-anchor="end" textLength="19.3" lengthAdjust="spacingAndGlyphs">PC15</text>
<rect x="99.29" y="475.6" width="13.8" height="12.3" fill="#fde35c"/>
<line x1="106.19" y1="488.6" x2="106.19" y2="491.8" stroke="#666" stroke-width="0.8"/>
<text transform="translate(109.39,495.1) rotate(-90)" class="samp" text-anchor="end" textLength="21.2" lengthAdjust="spacingAndGlyphs">PC04</text>
<rect x="114.11" y="475.6" width="13.8" height="12.3" fill="#3553e2"/>
<line x1="121.01" y1="488.6" x2="121.01" y2="491.8" stroke="#666" stroke-width="0.8"/>
<text transform="translate(124.21,495.1) rotate(-90)" class="samp" text-anchor="end" textLength="19.3" lengthAdjust="spacingAndGlyphs">PC21</text>
<rect x="128.93" y="475.6" width="13.8" height="12.3" fill="#3be6d9"/>
<line x1="135.83" y1="488.6" x2="135.83" y2="491.8" stroke="#666" stroke-width="0.8"/>
<text transform="translate(139.03,495.1) rotate(-90)" class="samp" text-anchor="end" textLength="21.2" lengthAdjust="spacingAndGlyphs">PC06</text>
<rect x="143.75" y="475.6" width="13.8" height="12.3" fill="#3be6d9"/>
<line x1="150.65" y1="488.6" x2="150.65" y2="491.8" stroke="#666" stroke-width="0.8"/>
<text transform="translate(153.85,495.1) rotate(-90)" class="samp" text-anchor="end" textLength="19.3" lengthAdjust="spacingAndGlyphs">PC12</text>
<rect x="158.57" y="475.6" width="13.8" height="12.3" fill="#3553e2"/>
<line x1="165.47" y1="488.6" x2="165.47" y2="491.8" stroke="#666" stroke-width="0.8"/>
<text transform="translate(168.67,495.1) rotate(-90)" class="samp" text-anchor="end" textLength="19.1" lengthAdjust="spacingAndGlyphs">PC17</text>
<rect x="173.39" y="475.6" width="13.8" height="12.3" fill="#3553e2"/>
<line x1="180.29" y1="488.6" x2="180.29" y2="491.8" stroke="#666" stroke-width="0.8"/>
<text transform="translate(183.49,495.1) rotate(-90)" class="samp" text-anchor="end" textLength="19.5" lengthAdjust="spacingAndGlyphs">PC18</text>
<rect x="188.21" y="475.6" width="13.8" height="12.3" fill="#c31ff0"/>
<line x1="195.11" y1="488.6" x2="195.11" y2="491.8" stroke="#666" stroke-width="0.8"/>
<text transform="translate(198.31,495.1) rotate(-90)" class="samp" text-anchor="end" textLength="21" lengthAdjust="spacingAndGlyphs">PC20</text>
<rect x="203.03" y="475.6" width="13.8" height="12.3" fill="#fde35c"/>
<line x1="209.93" y1="488.6" x2="209.93" y2="491.8" stroke="#666" stroke-width="0.8"/>
<text transform="translate(213.13,495.1) rotate(-90)" class="samp" text-anchor="end" textLength="20.7" lengthAdjust="spacingAndGlyphs">PC24</text>
<rect x="217.85" y="475.6" width="13.8" height="12.3" fill="#fde35c"/>
<line x1="224.75" y1="488.6" x2="224.75" y2="491.8" stroke="#666" stroke-width="0.8"/>
<text transform="translate(227.95,495.1) rotate(-90)" class="samp" text-anchor="end" textLength="21" lengthAdjust="spacingAndGlyphs">PC03</text>
<rect x="232.67" y="475.6" width="13.8" height="12.3" fill="#fde35c"/>
<line x1="239.57" y1="488.6" x2="239.57" y2="491.8" stroke="#666" stroke-width="0.8"/>
<text transform="translate(242.77,495.1) rotate(-90)" class="samp" text-anchor="end" textLength="21" lengthAdjust="spacingAndGlyphs">PC05</text>
<rect x="247.49" y="475.6" width="13.8" height="12.3" fill="#3be6d9"/>
<line x1="254.39" y1="488.6" x2="254.39" y2="491.8" stroke="#666" stroke-width="0.8"/>
<text transform="translate(257.59,495.1) rotate(-90)" class="samp" text-anchor="end" textLength="21.2" lengthAdjust="spacingAndGlyphs">PC08</text>
<rect x="262.31" y="475.6" width="13.8" height="12.3" fill="#fde35c"/>
<line x1="269.21" y1="488.6" x2="269.21" y2="491.8" stroke="#666" stroke-width="0.8"/>
<text transform="translate(272.41,495.1) rotate(-90)" class="samp" text-anchor="end" textLength="21" lengthAdjust="spacingAndGlyphs">PC02</text>
<rect x="277.13" y="475.6" width="13.8" height="12.3" fill="#3be6d9"/>
<line x1="284.03" y1="488.6" x2="284.03" y2="491.8" stroke="#666" stroke-width="0.8"/>
<text transform="translate(287.23,495.1) rotate(-90)" class="samp" text-anchor="end" textLength="21.2" lengthAdjust="spacingAndGlyphs">PC09</text>
<rect x="291.95" y="475.6" width="13.8" height="12.3" fill="#fde35c"/>
<line x1="298.85" y1="488.6" x2="298.85" y2="491.8" stroke="#666" stroke-width="0.8"/>
<text transform="translate(302.05,495.1) rotate(-90)" class="samp" text-anchor="end" textLength="19.8" lengthAdjust="spacingAndGlyphs">PC01</text>
<rect x="306.77" y="475.6" width="13.8" height="12.3" fill="#3be6d9"/>
<line x1="313.67" y1="488.6" x2="313.67" y2="491.8" stroke="#666" stroke-width="0.8"/>
<text transform="translate(316.87,495.1) rotate(-90)" class="samp" text-anchor="end" textLength="18.1" lengthAdjust="spacingAndGlyphs">PC11</text>
<rect x="321.59" y="475.6" width="13.8" height="12.3" fill="#3be6d9"/>
<line x1="328.49" y1="488.6" x2="328.49" y2="491.8" stroke="#666" stroke-width="0.8"/>
<text transform="translate(331.69,495.1) rotate(-90)" class="samp" text-anchor="end" textLength="19.3" lengthAdjust="spacingAndGlyphs">PC13</text>
<rect x="336.41" y="475.6" width="13.8" height="12.3" fill="#fde35c"/>
<line x1="343.31" y1="488.6" x2="343.31" y2="491.8" stroke="#666" stroke-width="0.8"/>
<text transform="translate(346.51,495.1) rotate(-90)" class="samp" text-anchor="end" textLength="20.5" lengthAdjust="spacingAndGlyphs">PC22</text>
<rect x="351.23" y="475.6" width="13.8" height="12.3" fill="#3be6d9"/>
<line x1="358.13" y1="488.6" x2="358.13" y2="491.8" stroke="#666" stroke-width="0.8"/>
<text transform="translate(361.33,495.1) rotate(-90)" class="samp" text-anchor="end" textLength="20.8" lengthAdjust="spacingAndGlyphs">PC07</text>
<rect x="366.05" y="475.6" width="13.8" height="12.3" fill="#3553e2"/>
<line x1="372.95" y1="488.6" x2="372.95" y2="491.8" stroke="#666" stroke-width="0.8"/>
<text transform="translate(376.15,495.1) rotate(-90)" class="samp" text-anchor="end" textLength="19.5" lengthAdjust="spacingAndGlyphs">PC19</text>
<rect x="380.87" y="475.6" width="13.8" height="12.3" fill="#fde35c"/>
<line x1="387.77" y1="488.6" x2="387.77" y2="491.8" stroke="#666" stroke-width="0.8"/>
<text transform="translate(390.97,495.1) rotate(-90)" class="samp" text-anchor="end" textLength="20.5" lengthAdjust="spacingAndGlyphs">PC23</text>
<text x="343" y="50.8" class="lg" textLength="77" lengthAdjust="spacingAndGlyphs">Collection_method</text>
<rect x="344" y="54.4" width="7.8" height="7.3" fill="#6fe3d8"/>
<text x="355.9" y="60.8" class="lg" textLength="33.2" lengthAdjust="spacingAndGlyphs">Autopsy</text>
<rect x="344" y="66.9" width="7.8" height="7.3" fill="#3a55e0"/>
<text x="355.9" y="73.3" class="lg">Biopsy</text>
<rect x="344" y="79.4" width="7.8" height="7.3" fill="#e0663c"/>
<text x="355.9" y="85.8" class="lg" textLength="73.2" lengthAdjust="spacingAndGlyphs">Organoid/autopsy</text>
<rect x="344" y="91.9" width="7.8" height="7.3" fill="#f9e277"/>
<text x="355.9" y="98.3" class="lg">Resection</text>
<rect x="344" y="104.4" width="7.8" height="7.3" fill="#b633f2"/>
<text x="355.9" y="110.8" class="lg" textLength="69.2" lengthAdjust="spacingAndGlyphs">Resection/biopsy</text>
<text x="411.8" y="143.8" class="lg">SNV</text>
<rect x="411.8" y="148" width="7.6" height="7" fill="#b8642a" stroke="#666" stroke-width="0.35"/>
<text x="423.8" y="153.8" class="lg">Fs_indel</text>
<rect x="411.8" y="160.2" width="7.6" height="7" fill="#3d9a32" stroke="#666" stroke-width="0.35"/>
<text x="423.8" y="166" class="lg">Missense</text>
<rect x="411.8" y="172.4" width="7.6" height="7" fill="#8c1a38" stroke="#666" stroke-width="0.35"/>
<text x="423.8" y="178.2" class="lg">Nonsense</text>
<rect x="411.8" y="184.6" width="7.6" height="7" fill="#6fe6dc" stroke="#666" stroke-width="0.35"/>
<text x="423.8" y="190.4" class="lg">Splice_site_variant</text>
<rect x="411.8" y="196.8" width="7.6" height="7" fill="#f28c3c" stroke="#666" stroke-width="0.35"/>
<text x="423.8" y="202.6" class="lg">Germline_mutation</text>
<text x="411.7" y="227.4" class="lg2">CNV</text>
<rect x="412.3" y="233.2" width="6.8" height="6.6" fill="#fff" stroke="#111" stroke-width="1.3"/>
<text x="423.8" y="238.9" class="lg">LOH</text>
<rect x="412.3" y="247.8" width="6.8" height="6.6" fill="#8a8a8a" stroke="#777" stroke-width="0.3"/>
<text x="423.8" y="253.5" class="lg">LOH</text>
<rect x="412.3" y="262.4" width="6.8" height="6.6" fill="#e04fe0" stroke="#777" stroke-width="0.3"/>
<text x="423.8" y="268.1" class="lg">AMP</text>
<rect x="412.3" y="277" width="6.8" height="6.6" fill="#000" stroke="#333" stroke-width="0.3"/>
<text x="423.8" y="282.7" class="lg">HOMDEL</text>
<text x="412" y="308.1" class="lg2">CCF</text>
<rect x="414.2" y="313.2" width="6.2" height="6.2" fill="none" stroke="#666" stroke-width="0.7"/>
<text x="427.6" y="318.6" class="lg">0.25</text>
<rect x="412.7" y="322.9" width="9" height="9" fill="none" stroke="#666" stroke-width="0.7"/>
<text x="427.6" y="329.7" class="lg">0.50</text>
<rect x="412" y="334.85" width="10.9" height="10.9" fill="none" stroke="#666" stroke-width="0.7"/>
<text x="427.6" y="342.6" class="lg">0.75</text>
<rect x="411.1" y="350.1" width="12.6" height="12.6" fill="none" stroke="#666" stroke-width="0.7"/>
<text x="427.6" y="358.7" class="lg">1.00</text>
<text x="446.6" y="50.5" class="lg">Event legend</text>
<path d="M446.1 61.8L450.45 54.9L454.8 61.8Z" fill="#f00"/>
<text x="457.8" y="61" class="lg">Somatic SNV gain</text>
<rect x="447" y="67.6" width="7" height="6.6" fill="#9b00ff"/>
<text x="457.8" y="73.2" class="lg">Somatic SNV LOH</text>
<rect x="447" y="79.8" width="7" height="6.6" fill="#0a7a10"/>
<text x="457.8" y="85.9" class="lg">Germline SNP LOH</text>
<path d="M591.2 10.5L657 10.5" stroke="#f6b088" stroke-width="1.0" fill="none"/>
<path d="M585 5.6L589.6 5.6Q591.2 5.6 591.2 7.2L591.2 13.6Q591.2 15.2 589.6 15.2L573.3 15.2" stroke="#a3a3a3" stroke-width="0.85" fill="none"/>
<circle cx="585" cy="5.6" r="2.8" fill="#7f7f7f"/>
<circle cx="573.3" cy="15.2" r="2.8" fill="#7f7f7f"/>
<rect x="587.75" y="6.95" width="1.3" height="1.3" fill="#2a8a22"/>
<path d="M621.9 9.19L623 7.21L624.1 9.19Z" fill="#f22a2a"/>
<path d="M624.8 9.19L625.9 7.21L627 9.19Z" fill="#f22a2a"/>
<rect x="623.55" y="9.65" width="1.7" height="1.7" fill="#9a1cff"/>
<rect x="620.85" y="11.85" width="1.3" height="1.3" fill="#2a8a22"/>
<rect x="622.85" y="11.85" width="1.3" height="1.3" fill="#2a8a22"/>
<rect x="624.85" y="11.85" width="1.3" height="1.3" fill="#2a8a22"/>
<rect x="626.85" y="11.85" width="1.3" height="1.3" fill="#2a8a22"/>
<text x="662.7" y="13.4" class="tl" textLength="21.1" lengthAdjust="spacingAndGlyphs">PC02</text>
<path d="M571.7 27.2L585 27.2" stroke="#a3a3a3" stroke-width="0.85" fill="none"/>
<path d="M585 27.2L623.3 27.2Q624.9 27.2 624.9 28.8L624.9 32.3" stroke="#f6b088" stroke-width="1.0" fill="none"/>
<path d="M624.9 32.3L624.9 34.9Q624.9 36.5 623.3 36.5L606 36.5" stroke="#a3a3a3" stroke-width="0.85" fill="none"/>
<path d="M624.9 32.3L657 32.3" stroke="#a3a3a3" stroke-width="0.85" fill="none"/>
<circle cx="571.7" cy="27.1" r="3.6" fill="#7f7f7f"/>
<circle cx="578.5" cy="27.2" r="1.1" fill="#7f7f7f"/>
<circle cx="585" cy="27.2" r="1.1" fill="#7f7f7f"/>
<circle cx="606" cy="36.5" r="1.2" fill="#7f7f7f"/>
<path d="M573.5 25.99L574.6 24.01L575.7 25.99Z" fill="#f22a2a"/>
<path d="M580.4 25.59L581.5 23.61L582.6 25.59Z" fill="#f22a2a"/>
<path d="M603.7 25.79L604.8 23.81L605.9 25.79Z" fill="#f22a2a"/>
<rect x="603.95" y="26.35" width="1.7" height="1.7" fill="#9a1cff"/>
<rect x="601.85" y="28.85" width="1.3" height="1.3" fill="#2a8a22"/>
<rect x="603.85" y="28.85" width="1.3" height="1.3" fill="#2a8a22"/>
<rect x="605.85" y="28.85" width="1.3" height="1.3" fill="#2a8a22"/>
<rect x="608.85" y="28.85" width="1.3" height="1.3" fill="#2a8a22"/>
<rect x="640.35" y="33.55" width="1.3" height="1.3" fill="#2a8a22"/>
<text x="662.7" y="35.2" class="tl" textLength="19.6" lengthAdjust="spacingAndGlyphs">PC18</text>
<path d="M577.1 58L655 58Q656.6 58 656.6 56.4L656.6 51.4" stroke="#f6b088" stroke-width="1.0" fill="none"/>
<path d="M656.6 51.4L656.6 47.7Q656.6 46.1 655 46.1L650.4 46.1" stroke="#a3a3a3" stroke-width="0.85" fill="none"/>
<path d="M656.6 51.4L635.1 51.4" stroke="#a3a3a3" stroke-width="0.85" fill="none"/>
<circle cx="650.4" cy="46.1" r="0.9" fill="#7f7f7f"/>
<circle cx="628.5" cy="51.3" r="2.3" fill="#7f7f7f"/>
<circle cx="635.1" cy="51.3" r="2.3" fill="#7f7f7f"/>
<path d="M630.4 49.59L631.5 47.61L632.6 49.59Z" fill="#f22a2a"/>
<rect x="645.35" y="52.55" width="1.3" height="1.3" fill="#2a8a22"/>
<path d="M567.7 61L575.5 61Q577.1 61 577.1 59.4L577.1 56.1" stroke="#a3a3a3" stroke-width="0.85" fill="none"/>
<circle cx="576.8" cy="56.1" r="2.2" fill="#7f7f7f"/>
<circle cx="567.7" cy="61" r="1.8" fill="#7f7f7f"/>
<path d="M615.6 56.99L616.7 55.01L617.8 56.99Z" fill="#f22a2a"/>
<rect x="610.85" y="59.85" width="1.3" height="1.3" fill="#2a8a22"/>
<rect x="611.85" y="59.85" width="1.3" height="1.3" fill="#2a8a22"/>
<rect x="613.85" y="59.85" width="1.3" height="1.3" fill="#2a8a22"/>
<rect x="615.85" y="59.85" width="1.3" height="1.3" fill="#2a8a22"/>
<rect x="617.85" y="59.85" width="1.3" height="1.3" fill="#2a8a22"/>
<rect x="619.85" y="59.85" width="1.3" height="1.3" fill="#2a8a22"/>
<rect x="621.85" y="59.85" width="1.3" height="1.3" fill="#2a8a22"/>
<text x="662.7" y="61.1" class="tl" textLength="20.6" lengthAdjust="spacingAndGlyphs">PC22</text>
<path d="M575.9 75.4L657 75.4" stroke="#f6b088" stroke-width="1.0" fill="none"/>
<path d="M558.4 68.4L574 68.4Q575.6 68.4 575.6 70L575.6 80Q575.6 81.6 574 81.6L558.4 81.6" stroke="#a3a3a3" stroke-width="0.85" fill="none"/>
<circle cx="575.6" cy="75.3" r="2.5" fill="#7f7f7f"/>
<circle cx="558.4" cy="68.4" r="2" fill="#7f7f7f"/>
<circle cx="558.4" cy="81.6" r="2.5" fill="#7f7f7f"/>
<path d="M613.9 73.89L615 71.91L616.1 73.89Z" fill="#f22a2a"/>
<path d="M616.7 73.89L617.8 71.91L618.9 73.89Z" fill="#f22a2a"/>
<rect x="615.55" y="74.55" width="1.7" height="1.7" fill="#9a1cff"/>
<rect x="610.85" y="76.85" width="1.3" height="1.3" fill="#2a8a22"/>
<rect x="612.85" y="76.85" width="1.3" height="1.3" fill="#2a8a22"/>
<rect x="614.85" y="76.85" width="1.3" height="1.3" fill="#2a8a22"/>
<rect x="616.85" y="76.85" width="1.3" height="1.3" fill="#2a8a22"/>
<rect x="619.85" y="76.85" width="1.3" height="1.3" fill="#2a8a22"/>
<rect x="621.85" y="76.85" width="1.3" height="1.3" fill="#2a8a22"/>
<text x="662.7" y="78.3" class="tl" textLength="19.6" lengthAdjust="spacingAndGlyphs">PC19</text>
<path d="M592.7 93.5L657 93.5" stroke="#f6b088" stroke-width="1.0" fill="none"/>
<path d="M559.2 88.5L591.1 88.5Q592.7 88.5 592.7 90.1L592.7 96.9Q592.7 98.5 591.1 98.5L570.2 98.5" stroke="#a3a3a3" stroke-width="0.85" fill="none"/>
<circle cx="559.2" cy="88.5" r="2.9" fill="#7f7f7f"/>
<circle cx="570.2" cy="98.6" r="1.8" fill="#7f7f7f"/>
<path d="M575 87.29L576.1 85.31L577.2 87.29Z" fill="#f22a2a"/>
<rect x="575.25" y="87.65" width="1.7" height="1.7" fill="#9a1cff"/>
<rect x="572.85" y="89.85" width="1.3" height="1.3" fill="#2a8a22"/>
<rect x="574.85" y="89.85" width="1.3" height="1.3" fill="#2a8a22"/>
<rect x="576.85" y="89.85" width="1.3" height="1.3" fill="#2a8a22"/>
<rect x="577.85" y="89.85" width="1.3" height="1.3" fill="#2a8a22"/>
<rect x="580.65" y="100.15" width="1.3" height="1.3" fill="#2a8a22"/>
<path d="M563.4 92.7L568.4 92.7Q570 92.7 570 94.3L570 103.2Q570 104.8 568.4 104.8L556.4 104.8" stroke="#a3a3a3" stroke-width="0.85" fill="none"/>
<path d="M563.4 96.6L570 96.6" stroke="#a3a3a3" stroke-width="0.85" fill="none"/>
<path d="M556.4 100.8L570 100.8" stroke="#a3a3a3" stroke-width="0.85" fill="none"/>
<circle cx="563.4" cy="92.7" r="0.8" fill="#7f7f7f"/>
<circle cx="563.4" cy="96.6" r="1.4" fill="#7f7f7f"/>
<circle cx="556.4" cy="100.8" r="1.2" fill="#7f7f7f"/>
<circle cx="563.4" cy="100.8" r="0.7" fill="#7f7f7f"/>
<circle cx="556.4" cy="104.8" r="1.2" fill="#7f7f7f"/>
<path d="M565.8 91.4L566.8 89.6L567.8 91.4Z" fill="#f22a2a"/>
<path d="M565.8 95.3L566.8 93.5L567.8 95.3Z" fill="#f22a2a"/>
<path d="M565.8 99.3L566.8 97.5L567.8 99.3Z" fill="#f22a2a"/>
<path d="M558.8 99.3L559.8 97.5L560.8 99.3Z" fill="#f22a2a"/>
<path d="M565.8 103.3L566.8 101.5L567.8 103.3Z" fill="#f22a2a"/>
<path d="M558.8 103.3L559.8 101.5L560.8 103.3Z" fill="#f22a2a"/>
<path d="M623.6 92.09L624.7 90.11L625.8 92.09Z" fill="#f22a2a"/>
<rect x="618.85" y="94.85" width="1.3" height="1.3" fill="#2a8a22"/>
<rect x="620.85" y="94.85" width="1.3" height="1.3" fill="#2a8a22"/>
<rect x="622.85" y="94.85" width="1.3" height="1.3" fill="#2a8a22"/>
<rect x="624.85" y="94.85" width="1.3" height="1.3" fill="#2a8a22"/>
<rect x="626.85" y="94.85" width="1.3" height="1.3" fill="#2a8a22"/>
<rect x="628.85" y="94.85" width="1.3" height="1.3" fill="#2a8a22"/>
<text x="662.7" y="96.4" class="tl" textLength="19.9" lengthAdjust="spacingAndGlyphs">PC01</text>
<path d="M565 118.4L657 118.4" stroke="#f6b088" stroke-width="1.0" fill="none"/>
<path d="M565 113.6L565 121.4Q565 123 563.4 123L552.6 123" stroke="#a3a3a3" stroke-width="0.85" fill="none"/>
<circle cx="564.7" cy="113.6" r="2.6" fill="#7f7f7f"/>
<circle cx="552.6" cy="123.1" r="2.8" fill="#7f7f7f"/>
<rect x="603.85" y="119.85" width="1.3" height="1.3" fill="#2a8a22"/>
<rect x="604.85" y="119.85" width="1.3" height="1.3" fill="#2a8a22"/>
<rect x="606.85" y="119.85" width="1.3" height="1.3" fill="#2a8a22"/>
<rect x="608.85" y="119.85" width="1.3" height="1.3" fill="#2a8a22"/>
<rect x="610.85" y="119.85" width="1.3" height="1.3" fill="#2a8a22"/>
<rect x="612.85" y="119.85" width="1.3" height="1.3" fill="#2a8a22"/>
<rect x="614.85" y="119.85" width="1.3" height="1.3" fill="#2a8a22"/>
<rect x="616.85" y="119.85" width="1.3" height="1.3" fill="#2a8a22"/>
<rect x="607.85" y="121.85" width="1.3" height="1.3" fill="#2a8a22"/>
<rect x="609.85" y="121.85" width="1.3" height="1.3" fill="#2a8a22"/>
<rect x="610.85" y="121.85" width="1.3" height="1.3" fill="#2a8a22"/>
<rect x="612.85" y="121.85" width="1.3" height="1.3" fill="#2a8a22"/>
<text x="662.7" y="121.3" class="tl" textLength="20.6" lengthAdjust="spacingAndGlyphs">PC23</text>
<path d="M559.2 139.7L657 139.7" stroke="#f9caae" stroke-width="1.0" fill="none"/>
<path d="M552.6 139.7L559.2 139.7" stroke="#a3a3a3" stroke-width="0.85" fill="none"/>
<circle cx="552.6" cy="139.7" r="3.3" fill="#7f7f7f"/>
<circle cx="559.2" cy="139.7" r="1.8" fill="#7f7f7f"/>
<path d="M554.7 138.19L555.8 136.21L556.9 138.19Z" fill="#f22a2a"/>
<path d="M607 138.19L608.1 136.21L609.2 138.19Z" fill="#f22a2a"/>
<rect x="607.25" y="138.95" width="1.7" height="1.7" fill="#9a1cff"/>
<rect x="600.85" y="141.85" width="1.3" height="1.3" fill="#2a8a22"/>
<rect x="602.85" y="141.85" width="1.3" height="1.3" fill="#2a8a22"/>
<rect x="604.85" y="141.85" width="1.3" height="1.3" fill="#2a8a22"/>
<rect x="606.85" y="141.85" width="1.3" height="1.3" fill="#2a8a22"/>
<rect x="608.85" y="141.85" width="1.3" height="1.3" fill="#2a8a22"/>
<rect x="610.85" y="141.85" width="1.3" height="1.3" fill="#2a8a22"/>
<rect x="612.85" y="141.85" width="1.3" height="1.3" fill="#2a8a22"/>
<rect x="614.85" y="141.85" width="1.3" height="1.3" fill="#2a8a22"/>
<rect x="605.85" y="143.85" width="1.3" height="1.3" fill="#2a8a22"/>
<rect x="607.85" y="143.85" width="1.3" height="1.3" fill="#2a8a22"/>
<rect x="609.85" y="143.85" width="1.3" height="1.3" fill="#2a8a22"/>
<text x="662.7" y="142.6" class="tl" textLength="20.8" lengthAdjust="spacingAndGlyphs">PC24</text>
<path d="M593.8 158.8L657 158.8" stroke="#f6b088" stroke-width="1.0" fill="none"/>
<path d="M567.2 154L592.2 154Q593.8 154 593.8 155.6L593.8 162.2Q593.8 163.8 592.2 163.8L567.7 163.8" stroke="#a3a3a3" stroke-width="0.85" fill="none"/>
<circle cx="567.2" cy="154" r="2.2" fill="#7f7f7f"/>
<circle cx="567.7" cy="163.8" r="1.9" fill="#7f7f7f"/>
<path d="M548.7 159.1L566.1 159.1Q567.7 159.1 567.7 160.7L567.7 167Q567.7 168.6 566.1 168.6L550.8 168.6" stroke="#a3a3a3" stroke-width="0.85" fill="none"/>
<circle cx="548.7" cy="159.1" r="2.2" fill="#7f7f7f"/>
<circle cx="550.8" cy="168.6" r="1.5" fill="#7f7f7f"/>
<rect x="576.85" y="154.85" width="1.3" height="1.3" fill="#2a8a22"/>
<rect x="578.85" y="154.85" width="1.3" height="1.3" fill="#2a8a22"/>
<rect x="580.85" y="154.85" width="1.3" height="1.3" fill="#2a8a22"/>
<rect x="583.85" y="154.85" width="1.3" height="1.3" fill="#2a8a22"/>
<rect x="577.85" y="165.85" width="1.3" height="1.3" fill="#2a8a22"/>
<rect x="581.85" y="165.85" width="1.3" height="1.3" fill="#2a8a22"/>
<path d="M622.9 157.29L624 155.31L625.1 157.29Z" fill="#f22a2a"/>
<path d="M625.7 157.29L626.8 155.31L627.9 157.29Z" fill="#f22a2a"/>
<rect x="619.85" y="160.85" width="1.3" height="1.3" fill="#2a8a22"/>
<rect x="621.85" y="160.85" width="1.3" height="1.3" fill="#2a8a22"/>
<rect x="623.85" y="160.85" width="1.3" height="1.3" fill="#2a8a22"/>
<rect x="625.85" y="160.85" width="1.3" height="1.3" fill="#2a8a22"/>
<rect x="627.85" y="160.85" width="1.3" height="1.3" fill="#2a8a22"/>
<rect x="629.85" y="160.85" width="1.3" height="1.3" fill="#2a8a22"/>
<text x="662.7" y="161.7" class="tl" textLength="20.9" lengthAdjust="spacingAndGlyphs">PC07</text>
<path d="M563.8 183.1L657 183.1" stroke="#f9caae" stroke-width="1.0" fill="none"/>
<path d="M563.8 174.9L563.8 189.4Q563.8 191 562.2 191L545.2 191" stroke="#a3a3a3" stroke-width="0.85" fill="none"/>
<path d="M556.2 174.9L563.8 174.9" stroke="#a3a3a3" stroke-width="0.85" fill="none"/>
<path d="M555.7 178.9L563.8 178.9" stroke="#a3a3a3" stroke-width="0.85" fill="none"/>
<path d="M554.7 182.8L563.8 182.8" stroke="#a3a3a3" stroke-width="0.85" fill="none"/>
<circle cx="556.2" cy="174.9" r="1.9" fill="#7f7f7f"/>
<circle cx="555.7" cy="178.9" r="2" fill="#7f7f7f"/>
<circle cx="554.7" cy="182.8" r="1.6" fill="#7f7f7f"/>
<circle cx="563.8" cy="187.2" r="1.2" fill="#7f7f7f"/>
<circle cx="545.2" cy="191" r="1.3" fill="#7f7f7f"/>
<path d="M601.8 181.49L602.9 179.51L604 181.49Z" fill="#f22a2a"/>
<path d="M604.6 181.49L605.7 179.51L606.8 181.49Z" fill="#f22a2a"/>
<path d="M607.5 181.49L608.6 179.51L609.7 181.49Z" fill="#f22a2a"/>
<path d="M610.3 181.49L611.4 179.51L612.5 181.49Z" fill="#f22a2a"/>
<path d="M613.2 181.49L614.3 179.51L615.4 181.49Z" fill="#f22a2a"/>
<path d="M616 181.49L617.1 179.51L618.2 181.49Z" fill="#f22a2a"/>
<rect x="609.35" y="182.25" width="1.7" height="1.7" fill="#9a1cff"/>
<rect x="606.85" y="184.85" width="1.3" height="1.3" fill="#2a8a22"/>
<rect x="607.85" y="184.85" width="1.3" height="1.3" fill="#2a8a22"/>
<rect x="609.85" y="184.85" width="1.3" height="1.3" fill="#2a8a22"/>
<rect x="611.85" y="184.85" width="1.3" height="1.3" fill="#2a8a22"/>
<rect x="612.85" y="184.85" width="1.3" height="1.3" fill="#2a8a22"/>
<text x="662.7" y="186" class="tl" textLength="21.3" lengthAdjust="spacingAndGlyphs">PC09</text>
<path d="M579.5 204.4L657 204.4" stroke="#f6b088" stroke-width="1.0" fill="none"/>
<path d="M572.7 199.6L577.9 199.6Q579.5 199.6 579.5 201.2L579.5 207.5Q579.5 209.1 577.9 209.1L541.6 209.1" stroke="#a3a3a3" stroke-width="0.85" fill="none"/>
<circle cx="572.7" cy="199.6" r="2.6" fill="#7f7f7f"/>
<circle cx="541.6" cy="209.1" r="2.8" fill="#7f7f7f"/>
<rect x="575.65" y="201.15" width="1.3" height="1.3" fill="#2a8a22"/>
<path d="M615.7 202.89L616.8 200.91L617.9 202.89Z" fill="#f22a2a"/>
<path d="M618.9 202.89L620 200.91L621.1 202.89Z" fill="#f22a2a"/>
<rect x="617.35" y="203.55" width="1.7" height="1.7" fill="#9a1cff"/>
<rect x="613.85" y="205.85" width="1.3" height="1.3" fill="#2a8a22"/>
<rect x="614.85" y="205.85" width="1.3" height="1.3" fill="#2a8a22"/>
<rect x="616.85" y="205.85" width="1.3" height="1.3" fill="#2a8a22"/>
<rect x="618.85" y="205.85" width="1.3" height="1.3" fill="#2a8a22"/>
<rect x="620.85" y="205.85" width="1.3" height="1.3" fill="#2a8a22"/>
<rect x="621.85" y="205.85" width="1.3" height="1.3" fill="#2a8a22"/>
<text x="662.7" y="207.3" class="tl" textLength="19.2" lengthAdjust="spacingAndGlyphs">PC17</text>
<path d="M584.9 227.8L657 227.8" stroke="#f9caae" stroke-width="1.0" fill="none"/>
<path d="M577.6 222.3L583.3 222.3Q584.9 222.3 584.9 223.9L584.9 231.6Q584.9 233.2 583.3 233.2L572.4 233.2" stroke="#a3a3a3" stroke-width="0.85" fill="none"/>
<path d="M578.3 218.2L578.3 222.3" stroke="#a3a3a3" stroke-width="0.85" fill="none"/>
<path d="M578.3 222.3L578.3 224.4Q578.3 226 576.7 226L552 226" stroke="#a3a3a3" stroke-width="0.85" fill="none"/>
<path d="M545.4 223.5L550.4 223.5Q552 223.5 552 225.1L552 227Q552 228.6 550.4 228.6L539.3 228.6" stroke="#a3a3a3" stroke-width="0.85" fill="none"/>
<circle cx="578.3" cy="218.2" r="1.5" fill="#7f7f7f"/>
<circle cx="572.4" cy="233.2" r="1.7" fill="#7f7f7f"/>
<circle cx="545.4" cy="223.5" r="2.5" fill="#7f7f7f"/>
<circle cx="539.3" cy="228.6" r="1.8" fill="#7f7f7f"/>
<rect x="547.95" y="224.85" width="1.3" height="1.3" fill="#2a8a22"/>
<rect x="580.95" y="223.85" width="1.3" height="1.3" fill="#2a8a22"/>
<rect x="564.25" y="225.15" width="1.7" height="1.7" fill="#9a1cff"/>
<path d="M618.1 226.49L619.2 224.51L620.3 226.49Z" fill="#f22a2a"/>
<path d="M621 226.49L622.1 224.51L623.2 226.49Z" fill="#f22a2a"/>
<rect x="615.85" y="229.85" width="1.3" height="1.3" fill="#2a8a22"/>
<rect x="616.85" y="229.85" width="1.3" height="1.3" fill="#2a8a22"/>
<rect x="618.85" y="229.85" width="1.3" height="1.3" fill="#2a8a22"/>
<rect x="620.85" y="229.85" width="1.3" height="1.3" fill="#2a8a22"/>
<rect x="622.85" y="229.85" width="1.3" height="1.3" fill="#2a8a22"/>
<rect x="624.85" y="229.85" width="1.3" height="1.3" fill="#2a8a22"/>
<text x="662.7" y="230.7" class="tl" textLength="19.4" lengthAdjust="spacingAndGlyphs">PC13</text>
<path d="M552 247.4L657 247.4" stroke="#f6b088" stroke-width="1.0" fill="none"/>
<path d="M538.1 247.4L552 247.4" stroke="#a3a3a3" stroke-width="0.85" fill="none"/>
<circle cx="538.1" cy="247.4" r="3.4" fill="#7f7f7f"/>
<circle cx="544.7" cy="247.4" r="1.6" fill="#7f7f7f"/>
<circle cx="551.6" cy="247.4" r="0.7" fill="#7f7f7f"/>
<path d="M540.3 245.99L541.4 244.01L542.5 245.99Z" fill="#f22a2a"/>
<path d="M546.8 245.99L547.9 244.01L549 245.99Z" fill="#f22a2a"/>
<path d="M603.2 245.89L604.3 243.91L605.4 245.89Z" fill="#f22a2a"/>
<rect x="603.45" y="246.55" width="1.7" height="1.7" fill="#9a1cff"/>
<rect x="596.85" y="249.85" width="1.3" height="1.3" fill="#2a8a22"/>
<rect x="598.85" y="249.85" width="1.3" height="1.3" fill="#2a8a22"/>
<rect x="599.85" y="249.85" width="1.3" height="1.3" fill="#2a8a22"/>
<rect x="601.85" y="249.85" width="1.3" height="1.3" fill="#2a8a22"/>
<rect x="603.85" y="249.85" width="1.3" height="1.3" fill="#2a8a22"/>
<rect x="604.85" y="249.85" width="1.3" height="1.3" fill="#2a8a22"/>
<rect x="606.85" y="249.85" width="1.3" height="1.3" fill="#2a8a22"/>
<rect x="608.85" y="249.85" width="1.3" height="1.3" fill="#2a8a22"/>
<rect x="610.85" y="249.85" width="1.3" height="1.3" fill="#2a8a22"/>
<rect x="600.85" y="251.85" width="1.3" height="1.3" fill="#2a8a22"/>
<rect x="602.85" y="251.85" width="1.3" height="1.3" fill="#2a8a22"/>
<rect x="603.85" y="251.85" width="1.3" height="1.3" fill="#2a8a22"/>
<rect x="605.85" y="251.85" width="1.3" height="1.3" fill="#2a8a22"/>
<text x="662.7" y="250.3" class="tl" textLength="21.3" lengthAdjust="spacingAndGlyphs">PC04</text>
<path d="M537.4 269.3L657 269.3" stroke="#f6b088" stroke-width="1.0" fill="none"/>
<path d="M537.4 264.3L537.4 271.9Q537.4 273.5 535.8 273.5L528.6 273.5" stroke="#a3a3a3" stroke-width="0.85" fill="none"/>
<circle cx="537.4" cy="264.3" r="2.6" fill="#7f7f7f"/>
<circle cx="528.6" cy="273.5" r="2.7" fill="#7f7f7f"/>
<path d="M589.9 267.79L591 265.81L592.1 267.79Z" fill="#f22a2a"/>
<path d="M592.9 267.79L594 265.81L595.1 267.79Z" fill="#f22a2a"/>
<path d="M595.9 267.79L597 265.81L598.1 267.79Z" fill="#f22a2a"/>
<path d="M598.9 267.79L600 265.81L601.1 267.79Z" fill="#f22a2a"/>
<path d="M602 267.79L603.1 265.81L604.2 267.79Z" fill="#f22a2a"/>
<rect x="594.65" y="268.45" width="1.7" height="1.7" fill="#9a1cff"/>
<rect x="597.55" y="268.45" width="1.7" height="1.7" fill="#9a1cff"/>
<rect x="589.85" y="270.85" width="1.3" height="1.3" fill="#2a8a22"/>
<rect x="591.85" y="270.85" width="1.3" height="1.3" fill="#2a8a22"/>
<rect x="593.85" y="270.85" width="1.3" height="1.3" fill="#2a8a22"/>
<rect x="595.85" y="270.85" width="1.3" height="1.3" fill="#2a8a22"/>
<rect x="597.85" y="270.85" width="1.3" height="1.3" fill="#2a8a22"/>
<rect x="599.85" y="270.85" width="1.3" height="1.3" fill="#2a8a22"/>
<rect x="601.85" y="270.85" width="1.3" height="1.3" fill="#2a8a22"/>
<rect x="603.85" y="270.85" width="1.3" height="1.3" fill="#2a8a22"/>
<rect x="596.35" y="272.75" width="1.3" height="1.3" fill="#2a8a22"/>
<text x="662.7" y="272.2" class="tl" textLength="21.1" lengthAdjust="spacingAndGlyphs">PC03</text>
<path d="M541.5 290.7L657 290.7" stroke="#f6b088" stroke-width="1.0" fill="none"/>
<path d="M513.8 284.3L539.9 284.3Q541.5 284.3 541.5 285.9L541.5 295.8Q541.5 297.4 539.9 297.4L532.3 297.4" stroke="#a3a3a3" stroke-width="0.85" fill="none"/>
<path d="M521.5 290.7L541.5 290.7" stroke="#a3a3a3" stroke-width="0.85" fill="none"/>
<path d="M525.4 297.3L532.3 297.3" stroke="#a3a3a3" stroke-width="0.85" fill="none"/>
<circle cx="513.8" cy="284.3" r="2.2" fill="#7f7f7f"/>
<circle cx="521.5" cy="290.7" r="1.6" fill="#7f7f7f"/>
<circle cx="532.3" cy="297.4" r="2.8" fill="#7f7f7f"/>
<circle cx="525.4" cy="297.3" r="0.7" fill="#7f7f7f"/>
<rect x="525.85" y="285.85" width="1.3" height="1.3" fill="#2a8a22"/>
<rect x="527.85" y="285.85" width="1.3" height="1.3" fill="#2a8a22"/>
<rect x="530.45" y="289.65" width="1.7" height="1.7" fill="#9a1cff"/>
<rect x="529.85" y="291.85" width="1.3" height="1.3" fill="#2a8a22"/>
<rect x="531.85" y="291.85" width="1.3" height="1.3" fill="#2a8a22"/>
<path d="M527.5 295.99L528.6 294.01L529.7 295.99Z" fill="#f22a2a"/>
<path d="M595.4 289.19L596.5 287.21L597.6 289.19Z" fill="#f22a2a"/>
<path d="M598.2 289.19L599.3 287.21L600.4 289.19Z" fill="#f22a2a"/>
<path d="M600.9 289.19L602 287.21L603.1 289.19Z" fill="#f22a2a"/>
<rect x="596.75" y="289.85" width="1.7" height="1.7" fill="#9a1cff"/>
<rect x="599.65" y="289.85" width="1.7" height="1.7" fill="#9a1cff"/>
<rect x="590.85" y="292.85" width="1.3" height="1.3" fill="#2a8a22"/>
<rect x="592.85" y="292.85" width="1.3" height="1.3" fill="#2a8a22"/>
<rect x="594.85" y="292.85" width="1.3" height="1.3" fill="#2a8a22"/>
<rect x="595.85" y="292.85" width="1.3" height="1.3" fill="#2a8a22"/>
<rect x="597.85" y="292.85" width="1.3" height="1.3" fill="#2a8a22"/>
<rect x="599.85" y="292.85" width="1.3" height="1.3" fill="#2a8a22"/>
<rect x="600.85" y="292.85" width="1.3" height="1.3" fill="#2a8a22"/>
<rect x="602.85" y="292.85" width="1.3" height="1.3" fill="#2a8a22"/>
<rect x="604.85" y="292.85" width="1.3" height="1.3" fill="#2a8a22"/>
<rect x="597.85" y="294.85" width="1.3" height="1.3" fill="#2a8a22"/>
<rect x="600.85" y="294.85" width="1.3" height="1.3" fill="#2a8a22"/>
<text x="662.7" y="293.6" class="tl" textLength="18.2" lengthAdjust="spacingAndGlyphs">PC11</text>
<path d="M548.8 314.5L657 314.5" stroke="#f6b088" stroke-width="1.0" fill="none"/>
<path d="M522.1 309.4L547.2 309.4Q548.8 309.4 548.8 311L548.8 318.3Q548.8 319.9 547.2 319.9L541.2 319.9" stroke="#a3a3a3" stroke-width="0.85" fill="none"/>
<path d="M513.8 304.7L520.5 304.7Q522.1 304.7 522.1 306.3L522.1 313.2Q522.1 314.8 520.5 314.8L512.3 314.8" stroke="#a3a3a3" stroke-width="0.85" fill="none"/>
<circle cx="522.1" cy="309.4" r="2.3" fill="#7f7f7f"/>
<circle cx="513.8" cy="304.7" r="1.2" fill="#7f7f7f"/>
<circle cx="512.3" cy="314.8" r="2" fill="#7f7f7f"/>
<circle cx="541.2" cy="319.9" r="1.8" fill="#7f7f7f"/>
<rect x="531.85" y="310.85" width="1.3" height="1.3" fill="#2a8a22"/>
<rect x="533.85" y="310.85" width="1.3" height="1.3" fill="#2a8a22"/>
<rect x="535.85" y="310.85" width="1.3" height="1.3" fill="#2a8a22"/>
<rect x="537.85" y="310.85" width="1.3" height="1.3" fill="#2a8a22"/>
<path d="M595.6 312.99L596.7 311.01L597.8 312.99Z" fill="#f22a2a"/>
<path d="M598.5 312.99L599.6 311.01L600.7 312.99Z" fill="#f22a2a"/>
<path d="M601.4 312.99L602.5 311.01L603.6 312.99Z" fill="#f22a2a"/>
<path d="M604.3 312.99L605.4 311.01L606.5 312.99Z" fill="#f22a2a"/>
<path d="M607.2 312.99L608.3 311.01L609.4 312.99Z" fill="#f22a2a"/>
<rect x="600.35" y="313.65" width="1.7" height="1.7" fill="#9a1cff"/>
<rect x="602.95" y="313.65" width="1.7" height="1.7" fill="#9a1cff"/>
<rect x="596.85" y="315.85" width="1.3" height="1.3" fill="#2a8a22"/>
<rect x="597.85" y="315.85" width="1.3" height="1.3" fill="#2a8a22"/>
<rect x="599.85" y="315.85" width="1.3" height="1.3" fill="#2a8a22"/>
<rect x="601.85" y="315.85" width="1.3" height="1.3" fill="#2a8a22"/>
<rect x="603.85" y="315.85" width="1.3" height="1.3" fill="#2a8a22"/>
<rect x="605.85" y="315.85" width="1.3" height="1.3" fill="#2a8a22"/>
<text x="662.7" y="317.4" class="tl" textLength="19.4" lengthAdjust="spacingAndGlyphs">PC15</text>
<path d="M543.5 335.5L657 335.5" stroke="#f6b088" stroke-width="1.0" fill="none"/>
<path d="M512.4 329L541.9 329Q543.5 329 543.5 330.6L543.5 339.5Q543.5 341.1 541.9 341.1L536.5 341.1" stroke="#a3a3a3" stroke-width="0.85" fill="none"/>
<path d="M512.4 326.3L512.4 329.5Q512.4 331.1 510.8 331.1L502.9 331.1" stroke="#a3a3a3" stroke-width="0.85" fill="none"/>
<circle cx="543.5" cy="336.2" r="1.9" fill="#7f7f7f"/>
<circle cx="512.4" cy="326.3" r="1.9" fill="#7f7f7f"/>
<circle cx="502.9" cy="331.1" r="1.9" fill="#7f7f7f"/>
<circle cx="536.5" cy="341.1" r="2.2" fill="#7f7f7f"/>
<rect x="525.85" y="329.85" width="1.3" height="1.3" fill="#2a8a22"/>
<rect x="527.85" y="329.85" width="1.3" height="1.3" fill="#2a8a22"/>
<path d="M594.4 333.99L595.5 332.01L596.6 333.99Z" fill="#f22a2a"/>
<path d="M597.2 333.99L598.3 332.01L599.4 333.99Z" fill="#f22a2a"/>
<path d="M600.1 333.99L601.2 332.01L602.3 333.99Z" fill="#f22a2a"/>
<path d="M602.9 333.99L604 332.01L605.1 333.99Z" fill="#f22a2a"/>
<rect x="597.85" y="334.65" width="1.7" height="1.7" fill="#9a1cff"/>
<rect x="600.75" y="334.65" width="1.7" height="1.7" fill="#9a1cff"/>
<rect x="593.85" y="336.85" width="1.3" height="1.3" fill="#2a8a22"/>
<rect x="594.85" y="336.85" width="1.3" height="1.3" fill="#2a8a22"/>
<rect x="596.85" y="336.85" width="1.3" height="1.3" fill="#2a8a22"/>
<rect x="598.85" y="336.85" width="1.3" height="1.3" fill="#2a8a22"/>
<rect x="599.85" y="336.85" width="1.3" height="1.3" fill="#2a8a22"/>
<rect x="601.85" y="336.85" width="1.3" height="1.3" fill="#2a8a22"/>
<rect x="603.85" y="336.85" width="1.3" height="1.3" fill="#2a8a22"/>
<rect x="605.85" y="336.85" width="1.3" height="1.3" fill="#2a8a22"/>
<text x="662.7" y="338.4" class="tl" textLength="21.3" lengthAdjust="spacingAndGlyphs">PC06</text>
<path d="M543.5 358.1L657 358.1" stroke="#f6b088" stroke-width="1.0" fill="none"/>
<path d="M536.6 353.5L541.9 353.5Q543.5 353.5 543.5 355.1L543.5 361.9Q543.5 363.5 541.9 363.5L495.8 363.5" stroke="#a3a3a3" stroke-width="0.85" fill="none"/>
<path d="M488 347.5L535 347.5Q536.6 347.5 536.6 349.1L536.6 357.7Q536.6 359.3 535 359.3L517.5 359.3" stroke="#a3a3a3" stroke-width="0.85" fill="none"/>
<path d="M491 351.6L536.6 351.6" stroke="#a3a3a3" stroke-width="0.85" fill="none"/>
<circle cx="536.6" cy="355.5" r="1.8" fill="#7f7f7f"/>
<circle cx="488" cy="347.5" r="2" fill="#7f7f7f"/>
<circle cx="491" cy="351.6" r="2" fill="#7f7f7f"/>
<circle cx="517.5" cy="359.3" r="1.2" fill="#7f7f7f"/>
<circle cx="495.8" cy="363.5" r="2" fill="#7f7f7f"/>
<path d="M538.8 352.29L539.9 350.31L541 352.29Z" fill="#f22a2a"/>
<rect x="592.85" y="359.85" width="1.3" height="1.3" fill="#2a8a22"/>
<rect x="594.85" y="359.85" width="1.3" height="1.3" fill="#2a8a22"/>
<rect x="596.85" y="359.85" width="1.3" height="1.3" fill="#2a8a22"/>
<rect x="598.85" y="359.85" width="1.3" height="1.3" fill="#2a8a22"/>
<rect x="600.85" y="359.85" width="1.3" height="1.3" fill="#2a8a22"/>
<rect x="602.85" y="359.85" width="1.3" height="1.3" fill="#2a8a22"/>
<rect x="604.85" y="359.85" width="1.3" height="1.3" fill="#2a8a22"/>
<rect x="606.85" y="359.85" width="1.3" height="1.3" fill="#2a8a22"/>
<rect x="599.35" y="361.85" width="1.3" height="1.3" fill="#2a8a22"/>
<text x="662.7" y="361" class="tl" textLength="21.3" lengthAdjust="spacingAndGlyphs">PC08</text>
<path d="M512.4 377.1L657 377.1" stroke="#f9caae" stroke-width="1.0" fill="none"/>
<path d="M512.4 372.3L512.4 379.9Q512.4 381.5 510.8 381.5L483.6 381.5" stroke="#a3a3a3" stroke-width="0.85" fill="none"/>
<path d="M505.5 372.3L512.4 372.3" stroke="#a3a3a3" stroke-width="0.85" fill="none"/>
<circle cx="505.5" cy="372.3" r="1.9" fill="#7f7f7f"/>
<circle cx="512.4" cy="372.3" r="1.7" fill="#7f7f7f"/>
<circle cx="483.6" cy="381.5" r="2.8" fill="#7f7f7f"/>
<path d="M507.7 370.99L508.8 369.01L509.9 370.99Z" fill="#f22a2a"/>
<path d="M580.7 375.59L581.8 373.61L582.9 375.59Z" fill="#f22a2a"/>
<path d="M583.3 375.59L584.4 373.61L585.5 375.59Z" fill="#f22a2a"/>
<path d="M585.9 375.59L587 373.61L588.1 375.59Z" fill="#f22a2a"/>
<rect x="583.55" y="376.25" width="1.7" height="1.7" fill="#9a1cff"/>
<rect x="576.85" y="378.85" width="1.3" height="1.3" fill="#2a8a22"/>
<rect x="578.85" y="378.85" width="1.3" height="1.3" fill="#2a8a22"/>
<rect x="579.85" y="378.85" width="1.3" height="1.3" fill="#2a8a22"/>
<rect x="581.85" y="378.85" width="1.3" height="1.3" fill="#2a8a22"/>
<rect x="583.85" y="378.85" width="1.3" height="1.3" fill="#2a8a22"/>
<rect x="585.85" y="378.85" width="1.3" height="1.3" fill="#2a8a22"/>
<rect x="586.85" y="378.85" width="1.3" height="1.3" fill="#2a8a22"/>
<rect x="588.85" y="378.85" width="1.3" height="1.3" fill="#2a8a22"/>
<rect x="590.85" y="378.85" width="1.3" height="1.3" fill="#2a8a22"/>
<rect x="578.85" y="380.85" width="1.3" height="1.3" fill="#2a8a22"/>
<rect x="579.85" y="380.85" width="1.3" height="1.3" fill="#2a8a22"/>
<rect x="581.85" y="380.85" width="1.3" height="1.3" fill="#2a8a22"/>
<rect x="583.85" y="380.85" width="1.3" height="1.3" fill="#2a8a22"/>
<rect x="585.85" y="380.85" width="1.3" height="1.3" fill="#2a8a22"/>
<rect x="587.85" y="380.85" width="1.3" height="1.3" fill="#2a8a22"/>
<rect x="589.85" y="380.85" width="1.3" height="1.3" fill="#2a8a22"/>
<text x="662.7" y="380" class="tl" textLength="21.1" lengthAdjust="spacingAndGlyphs">PC20</text>
<path d="M490.7 398.5L657 398.5" stroke="#f6b088" stroke-width="1.0" fill="none"/>
<path d="M473.9 392L489.1 392Q490.7 392 490.7 393.6L490.7 403.5Q490.7 405.1 489.1 405.1L475.3 405.1" stroke="#a3a3a3" stroke-width="0.85" fill="none"/>
<circle cx="490.7" cy="398.5" r="2.5" fill="#7f7f7f"/>
<circle cx="473.9" cy="392" r="2" fill="#7f7f7f"/>
<circle cx="475.3" cy="405.1" r="2.2" fill="#7f7f7f"/>
<path d="M568.4 396.79L569.5 394.81L570.6 396.79Z" fill="#f22a2a"/>
<path d="M571.1 396.79L572.2 394.81L573.3 396.79Z" fill="#f22a2a"/>
<path d="M573.8 396.79L574.9 394.81L576 396.79Z" fill="#f22a2a"/>
<path d="M576.5 396.79L577.6 394.81L578.7 396.79Z" fill="#f22a2a"/>
<rect x="571.15" y="397.65" width="1.7" height="1.7" fill="#9a1cff"/>
<rect x="574.15" y="397.65" width="1.7" height="1.7" fill="#9a1cff"/>
<rect x="566.85" y="400.85" width="1.3" height="1.3" fill="#2a8a22"/>
<rect x="567.85" y="400.85" width="1.3" height="1.3" fill="#2a8a22"/>
<rect x="569.85" y="400.85" width="1.3" height="1.3" fill="#2a8a22"/>
<rect x="571.85" y="400.85" width="1.3" height="1.3" fill="#2a8a22"/>
<rect x="573.85" y="400.85" width="1.3" height="1.3" fill="#2a8a22"/>
<rect x="575.85" y="400.85" width="1.3" height="1.3" fill="#2a8a22"/>
<rect x="577.85" y="400.85" width="1.3" height="1.3" fill="#2a8a22"/>
<rect x="579.85" y="400.85" width="1.3" height="1.3" fill="#2a8a22"/>
<rect x="567.85" y="402.85" width="1.3" height="1.3" fill="#2a8a22"/>
<rect x="568.85" y="402.85" width="1.3" height="1.3" fill="#2a8a22"/>
<rect x="570.85" y="402.85" width="1.3" height="1.3" fill="#2a8a22"/>
<rect x="572.85" y="402.85" width="1.3" height="1.3" fill="#2a8a22"/>
<rect x="574.85" y="402.85" width="1.3" height="1.3" fill="#2a8a22"/>
<rect x="576.85" y="402.85" width="1.3" height="1.3" fill="#2a8a22"/>
<rect x="578.85" y="402.85" width="1.3" height="1.3" fill="#2a8a22"/>
<text x="662.7" y="401.4" class="tl" textLength="19.4" lengthAdjust="spacingAndGlyphs">PC12</text>
<path d="M623.6 423.3L657 423.3" stroke="#f6b088" stroke-width="1.0" fill="none"/>
<path d="M482.5 413L560.8 413Q562.4 413 562.4 414.6L562.4 420.2" stroke="#a3a3a3" stroke-width="0.85" fill="none"/>
<path d="M511.5 420.2L562.4 420.2" stroke="#a3a3a3" stroke-width="0.85" fill="none"/>
<path d="M562.4 416.6L622 416.6Q623.6 416.6 623.6 418.2L623.6 427Q623.6 428.6 622 428.6L609.6 428.6" stroke="#a3a3a3" stroke-width="0.85" fill="none"/>
<path d="M470.8 414.2L481 414.2" stroke="#a3a3a3" stroke-width="0.85" fill="none"/>
<path d="M479.6 417.2L509.9 417.2Q511.5 417.2 511.5 418.8L511.5 421.5Q511.5 423.1 509.9 423.1L494.4 423.1" stroke="#a3a3a3" stroke-width="0.85" fill="none"/>
<circle cx="482.5" cy="411.4" r="1.2" fill="#7f7f7f"/>
<circle cx="470.8" cy="414.2" r="0.8" fill="#7f7f7f"/>
<circle cx="479.6" cy="417" r="2" fill="#7f7f7f"/>
<circle cx="511.5" cy="420" r="1.3" fill="#7f7f7f"/>
<circle cx="494.4" cy="423.1" r="1.8" fill="#7f7f7f"/>
<circle cx="623.6" cy="425.9" r="2.1" fill="#7f7f7f"/>
<circle cx="609.6" cy="428.6" r="1.4" fill="#7f7f7f"/>
<path d="M516.5 411.29L517.6 409.31L518.7 411.29Z" fill="#f22a2a"/>
<path d="M519.6 411.29L520.7 409.31L521.8 411.29Z" fill="#f22a2a"/>
<path d="M522.7 411.29L523.8 409.31L524.9 411.29Z" fill="#f22a2a"/>
<path d="M525.8 411.29L526.9 409.31L528 411.29Z" fill="#f22a2a"/>
<rect x="515.85" y="413.85" width="1.3" height="1.3" fill="#2a8a22"/>
<rect x="517.85" y="413.85" width="1.3" height="1.3" fill="#2a8a22"/>
<rect x="518.85" y="413.85" width="1.3" height="1.3" fill="#2a8a22"/>
<rect x="520.85" y="413.85" width="1.3" height="1.3" fill="#2a8a22"/>
<rect x="522.85" y="413.85" width="1.3" height="1.3" fill="#2a8a22"/>
<rect x="524.85" y="413.85" width="1.3" height="1.3" fill="#2a8a22"/>
<rect x="525.85" y="413.85" width="1.3" height="1.3" fill="#2a8a22"/>
<rect x="527.85" y="413.85" width="1.3" height="1.3" fill="#2a8a22"/>
<rect x="493.85" y="418.85" width="1.3" height="1.3" fill="#2a8a22"/>
<rect x="495.85" y="418.85" width="1.3" height="1.3" fill="#2a8a22"/>
<rect x="534.85" y="421.85" width="1.3" height="1.3" fill="#2a8a22"/>
<rect x="535.85" y="421.85" width="1.3" height="1.3" fill="#2a8a22"/>
<rect x="537.85" y="421.85" width="1.3" height="1.3" fill="#2a8a22"/>
<rect x="590.35" y="415.55" width="1.7" height="1.7" fill="#9a1cff"/>
<rect x="593.45" y="415.55" width="1.7" height="1.7" fill="#9a1cff"/>
<rect x="590.85" y="417.85" width="1.3" height="1.3" fill="#2a8a22"/>
<rect x="592.85" y="417.85" width="1.3" height="1.3" fill="#2a8a22"/>
<rect x="594.85" y="417.85" width="1.3" height="1.3" fill="#2a8a22"/>
<path d="M637.4 421.99L638.5 420.01L639.6 421.99Z" fill="#f22a2a"/>
<path d="M640.5 421.99L641.6 420.01L642.7 421.99Z" fill="#f22a2a"/>
<text x="662.7" y="426.2" class="tl" textLength="19.6" lengthAdjust="spacingAndGlyphs">PC16</text>
<path d="M623.7 446.4L654.9 446.4Q656.5 446.4 656.5 444.8L656.5 433" stroke="#f6b088" stroke-width="1.0" fill="none"/>
<path d="M656.5 433L650.4 433" stroke="#a3a3a3" stroke-width="0.85" fill="none"/>
<circle cx="650.4" cy="432.8" r="1.2" fill="#7f7f7f"/>
<path d="M653.1 431.49L654.2 429.51L655.3 431.49Z" fill="#f22a2a"/>
<path d="M537 443.4L622.1 443.4Q623.7 443.4 623.7 445L623.7 448.7Q623.7 450.3 622.1 450.3L594.7 450.3" stroke="#a3a3a3" stroke-width="0.85" fill="none"/>
<circle cx="594.7" cy="450.3" r="1.7" fill="#7f7f7f"/>
<rect x="608.55" y="451.55" width="1.3" height="1.3" fill="#2a8a22"/>
<path d="M577.8 441.79L578.9 439.81L580 441.79Z" fill="#f22a2a"/>
<path d="M580.9 441.79L582 439.81L583.1 441.79Z" fill="#f22a2a"/>
<rect x="576.35" y="442.05" width="1.7" height="1.7" fill="#9a1cff"/>
<rect x="579.55" y="442.05" width="1.7" height="1.7" fill="#9a1cff"/>
<rect x="582.65" y="442.05" width="1.7" height="1.7" fill="#9a1cff"/>
<rect x="572.85" y="444.85" width="1.3" height="1.3" fill="#2a8a22"/>
<rect x="574.85" y="444.85" width="1.3" height="1.3" fill="#2a8a22"/>
<rect x="576.85" y="444.85" width="1.3" height="1.3" fill="#2a8a22"/>
<rect x="578.85" y="444.85" width="1.3" height="1.3" fill="#2a8a22"/>
<rect x="580.85" y="444.85" width="1.3" height="1.3" fill="#2a8a22"/>
<rect x="582.85" y="444.85" width="1.3" height="1.3" fill="#2a8a22"/>
<rect x="584.85" y="444.85" width="1.3" height="1.3" fill="#2a8a22"/>
<rect x="586.85" y="444.85" width="1.3" height="1.3" fill="#2a8a22"/>
<path d="M637.4 445.49L638.5 443.51L639.6 445.49Z" fill="#f22a2a"/>
<path d="M640.5 445.49L641.6 443.51L642.7 445.49Z" fill="#f22a2a"/>
<path d="M523.5 438.7L535.4 438.7Q537 438.7 537 440.3L537 445.8Q537 447.4 535.4 447.4L526 447.4" stroke="#a3a3a3" stroke-width="0.85" fill="none"/>
<circle cx="523.5" cy="438.7" r="1.6" fill="#7f7f7f"/>
<circle cx="526" cy="447.4" r="1.2" fill="#7f7f7f"/>
<rect x="528.85" y="440.85" width="1.3" height="1.3" fill="#2a8a22"/>
<rect x="530.85" y="440.85" width="1.3" height="1.3" fill="#2a8a22"/>
<path d="M494 435.9L521.9 435.9Q523.5 435.9 523.5 437.5L523.5 441.4Q523.5 443 521.9 443L493.1 443" stroke="#a3a3a3" stroke-width="0.85" fill="none"/>
<circle cx="494" cy="435.9" r="2.2" fill="#7f7f7f"/>
<path d="M466.8 441.6L491.6 441.6Q493.1 441.6 493.1 443.1L493.1 443.1Q493.1 444.6 491.6 444.6L471.2 444.6" stroke="#a3a3a3" stroke-width="0.85" fill="none"/>
<circle cx="466.8" cy="441.6" r="0.7" fill="#7f7f7f"/>
<circle cx="473.5" cy="441.6" r="1.8" fill="#7f7f7f"/>
<circle cx="471.2" cy="444.6" r="1.5" fill="#7f7f7f"/>
<rect x="480.85" y="442.85" width="1.3" height="1.3" fill="#2a8a22"/>
<rect x="482.85" y="442.85" width="1.3" height="1.3" fill="#2a8a22"/>
<rect x="484.85" y="442.85" width="1.3" height="1.3" fill="#2a8a22"/>
<rect x="508.25" y="437.15" width="1.3" height="1.3" fill="#2a8a22"/>
<rect x="508.25" y="444.35" width="1.3" height="1.3" fill="#2a8a22"/>
<text x="662.7" y="449.3" class="tl" textLength="21.1" lengthAdjust="spacingAndGlyphs">PC05</text>
<path d="M522.2 463.5L657 463.5" stroke="#f9caae" stroke-width="1.0" fill="none"/>
<path d="M501.5 458.6L520.6 458.6Q522.2 458.6 522.2 460.2L522.2 467.7Q522.2 469.3 520.6 469.3L499.2 469.3" stroke="#a3a3a3" stroke-width="0.85" fill="none"/>
<path d="M478.2 461.6L499.9 461.6Q501.5 461.6 501.5 460L501.5 454.8" stroke="#a3a3a3" stroke-width="0.85" fill="none"/>
<circle cx="501.5" cy="454.8" r="2.6" fill="#7f7f7f"/>
<path d="M458.1 459.2L476.6 459.2Q478.2 459.2 478.2 460.8L478.2 461.6Q478.2 463.2 476.6 463.2L456.3 463.2" stroke="#a3a3a3" stroke-width="0.85" fill="none"/>
<circle cx="458.1" cy="459.2" r="1.5" fill="#7f7f7f"/>
<circle cx="456.3" cy="463.2" r="1.7" fill="#7f7f7f"/>
<rect x="466.85" y="460.85" width="1.3" height="1.3" fill="#2a8a22"/>
<rect x="467.85" y="460.85" width="1.3" height="1.3" fill="#2a8a22"/>
<rect x="469.85" y="460.85" width="1.3" height="1.3" fill="#2a8a22"/>
<rect x="466.85" y="464.65" width="1.3" height="1.3" fill="#2a8a22"/>
<path d="M479.5 469.5L480.5 467.7L481.5 469.5Z" fill="#f22a2a"/>
<path d="M487.7 465.7L488.7 463.9L489.7 465.7Z" fill="#f22a2a"/>
<rect x="489.85" y="462.15" width="1.3" height="1.3" fill="#2a8a22"/>
<path d="M485.2 467L497.6 467Q499.2 467 499.2 468.6L499.2 469.8Q499.2 471.4 497.6 471.4L477 471.4" stroke="#a3a3a3" stroke-width="0.85" fill="none"/>
<circle cx="485.2" cy="467" r="1.5" fill="#7f7f7f"/>
<circle cx="491.7" cy="467" r="0.8" fill="#7f7f7f"/>
<circle cx="477" cy="471.4" r="1.8" fill="#7f7f7f"/>
<circle cx="484" cy="471.4" r="1.5" fill="#7f7f7f"/>
<rect x="495.05" y="468.65" width="1.3" height="1.3" fill="#2a8a22"/>
<rect x="509.95" y="470.65" width="1.3" height="1.3" fill="#2a8a22"/>
<rect x="508.85" y="459.85" width="1.3" height="1.3" fill="#2a8a22"/>
<rect x="510.85" y="459.85" width="1.3" height="1.3" fill="#2a8a22"/>
<rect x="513.85" y="459.85" width="1.3" height="1.3" fill="#2a8a22"/>
<path d="M583.7 461.99L584.8 460.01L585.9 461.99Z" fill="#f22a2a"/>
<path d="M586.1 461.99L587.2 460.01L588.3 461.99Z" fill="#f22a2a"/>
<path d="M588.5 461.99L589.6 460.01L590.7 461.99Z" fill="#f22a2a"/>
<path d="M590.9 461.99L592 460.01L593.1 461.99Z" fill="#f22a2a"/>
<path d="M593.2 461.99L594.3 460.01L595.4 461.99Z" fill="#f22a2a"/>
<rect x="586.15" y="462.65" width="1.7" height="1.7" fill="#9a1cff"/>
<rect x="589.15" y="462.65" width="1.7" height="1.7" fill="#9a1cff"/>
<rect x="592.15" y="462.65" width="1.7" height="1.7" fill="#9a1cff"/>
<rect x="580.85" y="465.85" width="1.3" height="1.3" fill="#2a8a22"/>
<rect x="582.85" y="465.85" width="1.3" height="1.3" fill="#2a8a22"/>
<rect x="584.85" y="465.85" width="1.3" height="1.3" fill="#2a8a22"/>
<rect x="585.85" y="465.85" width="1.3" height="1.3" fill="#2a8a22"/>
<rect x="587.85" y="465.85" width="1.3" height="1.3" fill="#2a8a22"/>
<rect x="589.85" y="465.85" width="1.3" height="1.3" fill="#2a8a22"/>
<rect x="591.85" y="465.85" width="1.3" height="1.3" fill="#2a8a22"/>
<rect x="592.85" y="465.85" width="1.3" height="1.3" fill="#2a8a22"/>
<rect x="594.85" y="465.85" width="1.3" height="1.3" fill="#2a8a22"/>
<rect x="596.85" y="465.85" width="1.3" height="1.3" fill="#2a8a22"/>
<rect x="585.85" y="467.85" width="1.3" height="1.3" fill="#2a8a22"/>
<rect x="587.85" y="467.85" width="1.3" height="1.3" fill="#2a8a22"/>
<rect x="589.85" y="467.85" width="1.3" height="1.3" fill="#2a8a22"/>
<rect x="592.85" y="467.85" width="1.3" height="1.3" fill="#2a8a22"/>
<text x="662.7" y="466.4" class="tl" textLength="19.9" lengthAdjust="spacingAndGlyphs">PC10</text>
<path d="M448.2 484.5L657 484.5" stroke="#f9caae" stroke-width="1.0" fill="none"/>
<path d="M441.7 480L446.6 480Q448.2 480 448.2 481.6L448.2 487.6Q448.2 489.2 446.6 489.2L436 489.2" stroke="#a3a3a3" stroke-width="0.85" fill="none"/>
<circle cx="441.7" cy="480" r="2.9" fill="#7f7f7f"/>
<circle cx="436" cy="489.2" r="2.4" fill="#7f7f7f"/>
<rect x="444.45" y="479.15" width="1.7" height="1.7" fill="#9a1cff"/>
<path d="M543.9 483.09L545 481.11L546.1 483.09Z" fill="#f22a2a"/>
<path d="M546.9 483.09L548 481.11L549.1 483.09Z" fill="#f22a2a"/>
<path d="M549.9 483.09L551 481.11L552.1 483.09Z" fill="#f22a2a"/>
<path d="M552.9 483.09L554 481.11L555.1 483.09Z" fill="#f22a2a"/>
<path d="M555.9 483.09L557 481.11L558.1 483.09Z" fill="#f22a2a"/>
<path d="M558.9 483.09L560 481.11L561.1 483.09Z" fill="#f22a2a"/>
<rect x="548.35" y="483.65" width="1.7" height="1.7" fill="#9a1cff"/>
<rect x="551.35" y="483.65" width="1.7" height="1.7" fill="#9a1cff"/>
<rect x="554.35" y="483.65" width="1.7" height="1.7" fill="#9a1cff"/>
<rect x="544.85" y="486.85" width="1.3" height="1.3" fill="#2a8a22"/>
<rect x="545.85" y="486.85" width="1.3" height="1.3" fill="#2a8a22"/>
<rect x="547.85" y="486.85" width="1.3" height="1.3" fill="#2a8a22"/>
<rect x="549.85" y="486.85" width="1.3" height="1.3" fill="#2a8a22"/>
<rect x="551.85" y="486.85" width="1.3" height="1.3" fill="#2a8a22"/>
<rect x="553.85" y="486.85" width="1.3" height="1.3" fill="#2a8a22"/>
<rect x="555.85" y="486.85" width="1.3" height="1.3" fill="#2a8a22"/>
<rect x="557.85" y="486.85" width="1.3" height="1.3" fill="#2a8a22"/>
<rect x="559.85" y="486.85" width="1.3" height="1.3" fill="#2a8a22"/>
<rect x="544.85" y="488.85" width="1.3" height="1.3" fill="#2a8a22"/>
<rect x="545.85" y="488.85" width="1.3" height="1.3" fill="#2a8a22"/>
<rect x="547.85" y="488.85" width="1.3" height="1.3" fill="#2a8a22"/>
<rect x="549.85" y="488.85" width="1.3" height="1.3" fill="#2a8a22"/>
<rect x="551.85" y="488.85" width="1.3" height="1.3" fill="#2a8a22"/>
<rect x="553.85" y="488.85" width="1.3" height="1.3" fill="#2a8a22"/>
<rect x="555.85" y="488.85" width="1.3" height="1.3" fill="#2a8a22"/>
<rect x="557.85" y="488.85" width="1.3" height="1.3" fill="#2a8a22"/>
<rect x="559.85" y="488.85" width="1.3" height="1.3" fill="#2a8a22"/>
<rect x="547.85" y="490.85" width="1.3" height="1.3" fill="#2a8a22"/>
<rect x="549.85" y="490.85" width="1.3" height="1.3" fill="#2a8a22"/>
<rect x="551.85" y="490.85" width="1.3" height="1.3" fill="#2a8a22"/>
<rect x="553.85" y="490.85" width="1.3" height="1.3" fill="#2a8a22"/>
<rect x="556.85" y="490.85" width="1.3" height="1.3" fill="#2a8a22"/>
<text x="662.7" y="487.4" class="tl" textLength="19.6" lengthAdjust="spacingAndGlyphs">PC14</text>
<path d="M403.3 498.1L449 498.1Q450.6 498.1 450.6 499.7L450.6 504.6Q450.6 506.2 449 506.2L425.9 506.2" stroke="#a3a3a3" stroke-width="0.85" fill="none"/>
<circle cx="403.3" cy="498.1" r="0.7" fill="#7f7f7f"/>
<circle cx="450.6" cy="502.2" r="1.8" fill="#7f7f7f"/>
<circle cx="425.9" cy="506.2" r="1.9" fill="#7f7f7f"/>
<rect x="423.85" y="499.85" width="1.3" height="1.3" fill="#2a8a22"/>
<rect x="425.85" y="499.85" width="1.3" height="1.3" fill="#2a8a22"/>
<rect x="427.85" y="499.85" width="1.3" height="1.3" fill="#2a8a22"/>
<rect x="429.85" y="499.85" width="1.3" height="1.3" fill="#2a8a22"/>
<path d="M450.6 502.4L588.9 502.4Q590.5 502.4 590.5 504L590.5 508.7Q590.5 510.3 588.9 510.3L563.9 510.3" stroke="#a3a3a3" stroke-width="0.85" fill="none"/>
<circle cx="563.9" cy="510.3" r="1.9" fill="#7f7f7f"/>
<rect x="519.65" y="501.35" width="1.7" height="1.7" fill="#9a1cff"/>
<rect x="512.85" y="504.85" width="1.3" height="1.3" fill="#2a8a22"/>
<rect x="514.85" y="504.85" width="1.3" height="1.3" fill="#2a8a22"/>
<rect x="516.85" y="504.85" width="1.3" height="1.3" fill="#2a8a22"/>
<rect x="518.85" y="504.85" width="1.3" height="1.3" fill="#2a8a22"/>
<rect x="520.85" y="504.85" width="1.3" height="1.3" fill="#2a8a22"/>
<rect x="522.85" y="504.85" width="1.3" height="1.3" fill="#2a8a22"/>
<rect x="524.85" y="504.85" width="1.3" height="1.3" fill="#2a8a22"/>
<rect x="527.85" y="504.85" width="1.3" height="1.3" fill="#2a8a22"/>
<rect x="512.85" y="506.85" width="1.3" height="1.3" fill="#2a8a22"/>
<rect x="514.85" y="506.85" width="1.3" height="1.3" fill="#2a8a22"/>
<rect x="516.85" y="506.85" width="1.3" height="1.3" fill="#2a8a22"/>
<rect x="518.85" y="506.85" width="1.3" height="1.3" fill="#2a8a22"/>
<rect x="520.85" y="506.85" width="1.3" height="1.3" fill="#2a8a22"/>
<rect x="522.85" y="506.85" width="1.3" height="1.3" fill="#2a8a22"/>
<rect x="524.85" y="506.85" width="1.3" height="1.3" fill="#2a8a22"/>
<rect x="527.85" y="506.85" width="1.3" height="1.3" fill="#2a8a22"/>
<rect x="516.85" y="508.85" width="1.3" height="1.3" fill="#2a8a22"/>
<rect x="518.85" y="508.85" width="1.3" height="1.3" fill="#2a8a22"/>
<rect x="520.85" y="508.85" width="1.3" height="1.3" fill="#2a8a22"/>
<rect x="523.85" y="508.85" width="1.3" height="1.3" fill="#2a8a22"/>
<path d="M590.5 506.5L621.6 506.5Q623.2 506.5 623.2 508.1L623.2 510.3" stroke="#f6b088" stroke-width="1.0" fill="none"/>
<path d="M623.2 510.3L623.2 512.8Q623.2 514.4 621.6 514.4L599.7 514.4" stroke="#a3a3a3" stroke-width="0.85" fill="none"/>
<circle cx="599.7" cy="514.4" r="2.3" fill="#7f7f7f"/>
<path d="M623.2 510.3L657 510.3" stroke="#a3a3a3" stroke-width="0.85" fill="none"/>
<path d="M604.3 504.69L605.4 502.71L606.5 504.69Z" fill="#f22a2a"/>
<path d="M607.2 504.69L608.3 502.71L609.4 504.69Z" fill="#f22a2a"/>
<rect x="604.85" y="507.85" width="1.3" height="1.3" fill="#2a8a22"/>
<rect x="606.85" y="507.85" width="1.3" height="1.3" fill="#2a8a22"/>
<rect x="608.85" y="507.85" width="1.3" height="1.3" fill="#2a8a22"/>
<rect x="610.75" y="515.55" width="1.3" height="1.3" fill="#2a8a22"/>
<rect x="639.55" y="511.65" width="1.3" height="1.3" fill="#2a8a22"/>
<text x="662.7" y="513.2" class="tl" textLength="19.4" lengthAdjust="spacingAndGlyphs">PC21</text>
</svg></body></html>
